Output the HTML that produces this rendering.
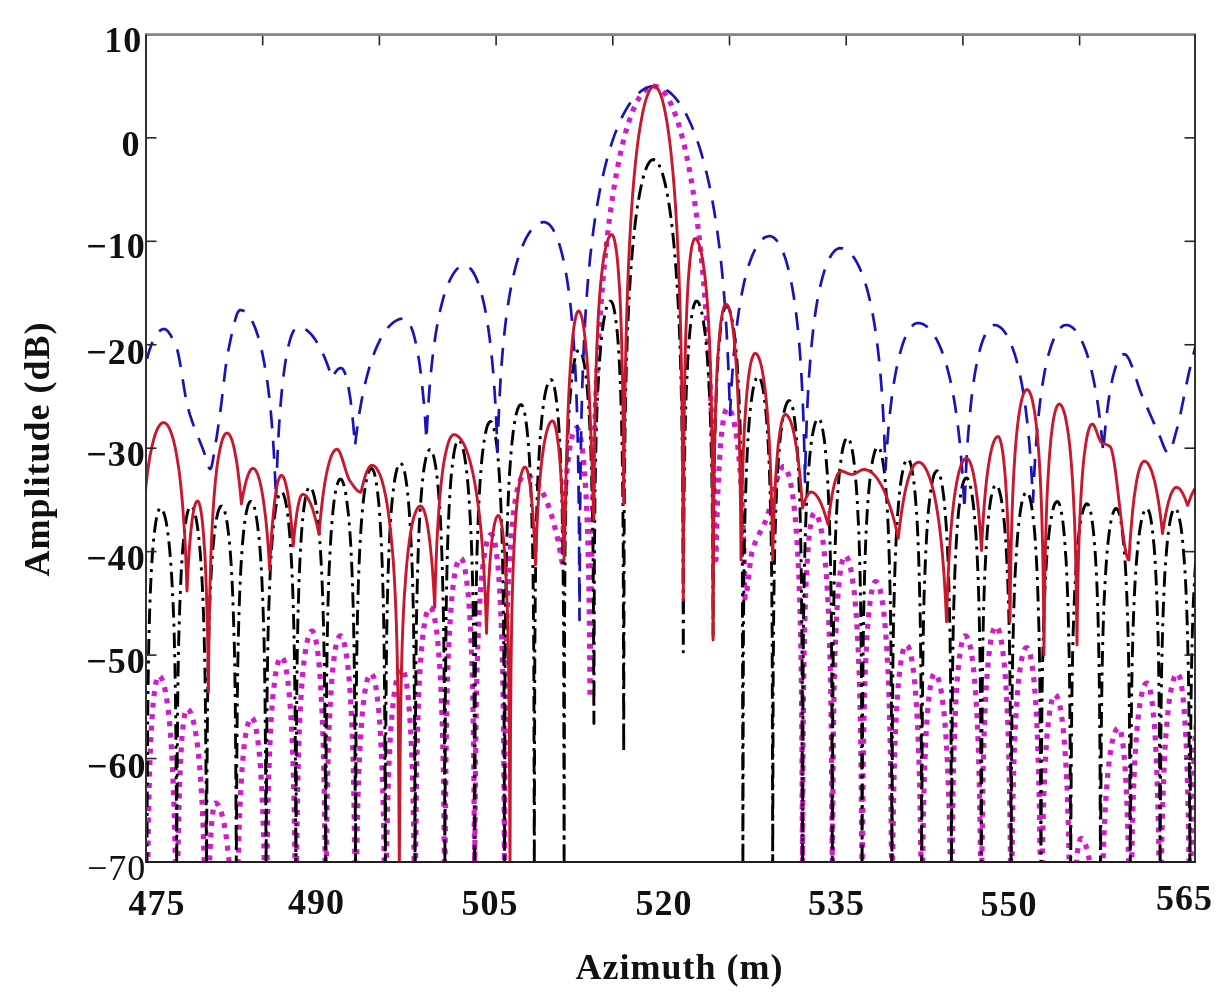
<!DOCTYPE html>
<html><head><meta charset="utf-8"><title>Amplitude vs Azimuth</title>
<style>
html,body{margin:0;padding:0;background:#fff;}
body{width:1223px;height:997px;overflow:hidden;}
svg{display:block;}
</style></head>
<body>
<svg width="1223" height="997" viewBox="0 0 1223 997">
<rect x="0" y="0" width="1223" height="997" fill="#ffffff"/>
<defs><clipPath id="ax"><rect x="146.0" y="33.4" width="1049.0" height="828.6"/></clipPath></defs>
<g clip-path="url(#ax)">
<path d="M146.9 868.0 L147.4 868.0 L147.9 858.7 L148.4 822.6 L148.9 797.2 L149.4 777.8 L149.9 762.1 L150.4 749.1 L150.9 738.1 L151.4 728.6 L151.9 720.4 L152.4 713.2 L152.9 706.9 L153.4 701.4 L153.9 696.6 L154.4 692.4 L154.9 688.7 L155.4 685.6 L155.9 682.9 L156.4 680.7 L156.9 678.9 L157.4 677.5 L157.9 676.6 L158.4 676.0 L159.4 675.9 L160.4 676.6 L161.4 678.1 L162.5 680.3 L163.5 683.3 L164.5 687.2 L165.5 692.0 L166.5 697.9 L167.0 701.3 L167.5 705.0 L168.1 709.0 L168.6 713.4 L169.1 718.2 L169.6 723.5 L170.1 729.4 L170.6 735.8 L171.1 742.9 L171.6 750.8 L172.1 759.7 L172.6 769.8 L173.1 781.3 L173.6 794.8 L174.2 810.8 L174.7 830.6 L175.2 856.2 L175.7 868.0 L177.7 868.0 L178.2 839.5 L178.8 814.3 L179.3 795.1 L179.8 779.8 L180.3 767.1 L180.8 756.5 L181.3 747.6 L181.8 739.9 L182.4 733.4 L182.9 727.8 L183.4 723.1 L183.9 719.2 L184.4 715.9 L184.9 713.3 L185.5 711.3 L186.0 709.9 L186.5 709.1 L187.0 708.8 L188.0 709.1 L189.0 710.0 L190.0 711.4 L191.0 713.5 L192.0 716.3 L193.0 719.7 L194.0 723.9 L195.0 728.9 L196.0 734.8 L197.0 741.8 L197.5 745.7 L198.0 750.0 L198.5 754.6 L199.0 759.6 L199.5 765.1 L200.0 771.1 L200.5 777.7 L201.0 784.9 L201.5 792.9 L202.0 801.9 L202.5 812.1 L203.0 823.7 L203.5 837.3 L204.0 853.4 L204.5 868.0 L209.1 868.0 L209.6 860.6 L210.2 848.5 L210.7 838.5 L211.2 830.2 L211.7 823.3 L212.3 817.6 L212.8 812.9 L213.3 809.3 L213.8 806.5 L214.4 804.5 L214.9 803.4 L215.4 803.0 L216.4 803.3 L217.4 804.1 L218.5 805.4 L219.5 807.3 L220.5 809.8 L221.5 812.8 L222.5 816.6 L223.6 821.1 L224.6 826.3 L225.6 832.4 L226.6 839.6 L227.1 843.6 L227.6 848.0 L228.1 852.7 L228.7 857.8 L229.2 863.3 L229.7 868.0 L237.8 868.0 L238.3 858.6 L238.8 838.9 L239.3 823.0 L239.8 809.7 L240.4 798.3 L240.9 788.5 L241.4 779.8 L241.9 772.1 L242.4 765.2 L242.9 759.1 L243.4 753.6 L243.9 748.6 L244.4 744.2 L244.9 740.2 L245.4 736.5 L245.9 733.3 L246.4 730.4 L246.9 727.9 L248.0 723.7 L249.0 720.6 L250.0 718.6 L251.0 717.6 L252.0 717.6 L253.0 718.7 L254.0 720.8 L255.0 724.1 L255.5 726.2 L256.0 728.6 L256.5 731.4 L257.0 734.5 L257.5 738.0 L258.0 741.9 L258.5 746.3 L259.1 751.1 L259.6 756.6 L260.1 762.6 L260.6 769.4 L261.1 777.0 L261.6 785.6 L262.1 795.5 L262.6 806.8 L263.1 820.1 L263.6 836.0 L264.1 855.6 L264.6 868.0 L266.6 868.0 L267.1 859.9 L267.6 823.7 L268.1 798.1 L268.6 778.4 L269.2 762.5 L269.7 749.2 L270.2 737.8 L270.7 728.0 L271.2 719.3 L271.7 711.6 L272.2 704.7 L272.7 698.6 L273.2 693.1 L273.8 688.1 L274.3 683.7 L274.8 679.7 L275.3 676.0 L275.8 672.8 L276.3 669.9 L276.8 667.4 L277.3 665.1 L278.3 661.5 L279.4 659.0 L280.4 657.5 L281.4 657.0 L282.4 657.5 L283.4 659.1 L284.4 661.8 L284.9 663.6 L285.4 665.7 L285.9 668.1 L286.4 670.9 L286.9 674.0 L287.4 677.5 L287.9 681.4 L288.4 685.8 L288.9 690.6 L289.4 696.1 L289.9 702.1 L290.4 708.9 L290.9 716.5 L291.4 725.1 L291.9 735.0 L292.4 746.3 L292.9 759.6 L293.4 775.5 L293.9 795.1 L294.4 820.7 L294.9 856.9 L295.4 868.0 L296.4 868.0 L296.9 839.7 L297.4 803.4 L297.9 777.8 L298.4 758.1 L298.9 742.1 L299.4 728.8 L299.9 717.3 L300.4 707.3 L300.9 698.6 L301.4 690.8 L301.9 683.8 L302.4 677.5 L302.9 671.9 L303.4 666.8 L303.9 662.1 L304.5 657.9 L305.0 654.1 L305.5 650.7 L306.0 647.6 L307.0 642.3 L308.0 638.1 L309.0 635.0 L310.0 632.7 L311.0 631.4 L312.0 631.0 L312.5 631.2 L313.0 631.6 L313.5 632.4 L314.0 633.5 L314.5 634.9 L315.0 636.6 L315.6 638.7 L316.1 641.1 L316.6 643.9 L317.1 647.2 L317.6 650.8 L318.1 654.9 L318.6 659.6 L319.1 664.8 L319.6 670.7 L320.1 677.3 L320.6 684.8 L321.1 693.3 L321.6 703.0 L322.1 714.2 L322.7 727.4 L323.2 743.2 L323.7 762.8 L324.2 788.3 L324.7 824.5 L325.2 868.0 L326.2 868.0 L326.7 835.6 L327.2 799.4 L327.7 773.8 L328.2 754.2 L328.7 738.3 L329.2 725.0 L329.8 713.7 L330.3 703.8 L330.8 695.2 L331.3 687.6 L331.8 680.8 L332.3 674.8 L332.8 669.3 L333.3 664.5 L333.8 660.1 L334.3 656.2 L334.8 652.7 L335.3 649.6 L335.8 646.8 L336.3 644.4 L336.9 642.3 L337.9 639.0 L338.9 636.9 L339.9 635.8 L340.9 635.8 L341.9 636.8 L342.9 638.8 L343.9 641.9 L344.9 646.1 L345.4 648.6 L345.9 651.5 L346.4 654.7 L346.9 658.4 L347.4 662.4 L347.9 666.8 L348.5 671.8 L349.0 677.3 L349.5 683.4 L350.0 690.3 L350.5 698.0 L351.0 706.7 L351.5 716.5 L352.0 727.9 L352.5 741.2 L353.0 757.1 L353.5 776.8 L354.0 802.4 L354.5 838.6 L355.0 868.0 L356.5 868.0 L357.0 843.1 L357.5 817.5 L358.0 797.8 L358.5 781.9 L359.0 768.5 L359.5 757.1 L360.0 747.2 L360.5 738.5 L361.0 730.7 L361.5 723.8 L362.0 717.6 L362.5 712.0 L363.0 707.0 L363.5 702.4 L364.0 698.3 L364.5 694.6 L365.0 691.2 L365.5 688.2 L366.0 685.6 L367.0 681.1 L368.0 677.7 L369.0 675.4 L370.0 674.0 L371.0 673.5 L372.0 674.1 L373.0 675.8 L373.6 677.1 L374.1 678.7 L374.6 680.6 L375.1 682.9 L375.6 685.5 L376.1 688.4 L376.6 691.8 L377.1 695.6 L377.6 699.9 L378.1 704.6 L378.7 710.0 L379.2 715.9 L379.7 722.7 L380.2 730.2 L380.7 738.8 L381.2 748.5 L381.7 759.8 L382.2 773.0 L382.7 788.9 L383.3 808.5 L383.8 834.0 L384.3 868.0 L386.3 868.0 L386.8 841.1 L387.4 815.5 L387.9 795.8 L388.4 779.8 L388.9 766.5 L389.4 755.0 L389.9 745.0 L390.4 736.3 L390.9 728.5 L391.4 721.5 L392.0 715.2 L392.5 709.6 L393.0 704.5 L393.5 699.8 L394.0 695.6 L394.5 691.8 L395.0 688.4 L395.6 685.3 L396.1 682.5 L397.1 677.8 L398.1 674.1 L399.1 671.4 L400.2 669.7 L401.2 668.8 L402.2 668.9 L402.7 669.4 L403.2 670.2 L403.8 671.3 L404.3 672.9 L404.8 674.7 L405.3 677.0 L405.8 679.6 L406.3 682.7 L406.9 686.2 L407.4 690.2 L407.9 694.7 L408.4 699.8 L408.9 705.6 L409.4 712.1 L409.9 719.5 L410.5 727.9 L411.0 737.6 L411.5 748.7 L412.0 761.9 L412.5 777.6 L413.0 797.2 L413.6 822.6 L414.1 858.8 L414.6 868.0 L415.6 868.0 L416.1 807.3 L416.6 771.1 L417.2 745.5 L417.7 725.9 L418.2 710.0 L418.7 696.7 L419.2 685.4 L419.7 675.5 L420.2 666.9 L420.8 659.3 L421.3 652.5 L421.8 646.5 L422.3 641.0 L422.8 636.2 L423.3 631.8 L423.8 627.9 L424.3 624.4 L424.9 621.3 L425.4 618.5 L425.9 616.1 L426.4 614.0 L426.9 612.2 L427.9 609.5 L429.0 607.9 L430.0 607.4 L431.0 607.9 L432.1 609.5 L433.1 612.2 L433.6 614.0 L434.1 616.1 L434.6 618.5 L435.1 621.3 L435.7 624.4 L436.2 627.9 L436.7 631.8 L437.2 636.2 L437.7 641.0 L438.2 646.5 L438.7 652.5 L439.2 659.3 L439.8 666.9 L440.3 675.5 L440.8 685.4 L441.3 696.7 L441.8 710.0 L442.3 725.9 L442.8 745.5 L443.4 771.1 L443.9 807.3 L444.4 868.0 L444.9 868.0 L445.4 826.0 L445.9 763.8 L446.4 727.6 L446.9 702.0 L447.4 682.3 L447.9 666.4 L448.4 653.0 L449.0 641.6 L449.5 631.7 L450.0 623.0 L450.5 615.2 L451.0 608.3 L451.5 602.1 L452.0 596.5 L452.5 591.5 L453.0 586.9 L453.5 582.8 L454.0 579.1 L454.5 575.7 L455.0 572.7 L455.5 570.1 L456.5 565.6 L457.6 562.2 L458.6 559.9 L459.6 558.5 L460.6 558.0 L461.6 558.6 L462.6 560.3 L463.1 561.6 L463.6 563.2 L464.1 565.1 L464.6 567.4 L465.1 570.0 L465.6 573.0 L466.1 576.3 L466.6 580.1 L467.1 584.4 L467.6 589.1 L468.2 594.5 L468.7 600.4 L469.2 607.2 L469.7 614.7 L470.2 623.3 L470.7 633.0 L471.2 644.3 L471.7 657.5 L472.2 673.4 L472.7 693.0 L473.2 718.5 L473.7 754.7 L474.2 816.9 L474.7 868.0 L475.2 808.0 L475.7 745.8 L476.2 709.6 L476.7 684.0 L477.2 664.2 L477.7 648.2 L478.2 634.8 L478.7 623.3 L479.2 613.3 L479.7 604.5 L480.2 596.7 L480.7 589.7 L481.2 583.3 L481.7 577.6 L482.2 572.4 L482.7 567.7 L483.2 563.5 L483.7 559.6 L484.2 556.0 L484.7 552.8 L485.7 547.3 L486.7 542.9 L487.7 539.5 L488.7 537.0 L489.7 535.3 L490.7 534.5 L491.7 534.6 L492.2 535.1 L492.7 535.9 L493.2 537.0 L493.8 538.6 L494.3 540.4 L494.8 542.7 L495.3 545.3 L495.8 548.4 L496.3 551.9 L496.8 555.9 L497.3 560.4 L497.9 565.5 L498.4 571.3 L498.9 577.8 L499.4 585.2 L499.9 593.6 L500.4 603.3 L500.9 614.4 L501.4 627.6 L501.9 643.3 L502.5 662.9 L503.0 688.4 L503.5 724.5 L504.0 786.6 L504.5 868.0 L505.0 764.0 L505.5 701.8 L506.0 665.5 L506.5 639.8 L507.0 620.0 L507.5 603.9 L508.0 590.4 L508.5 578.7 L509.0 568.6 L509.6 559.6 L510.1 551.5 L510.6 544.3 L511.1 537.7 L511.6 531.7 L512.1 526.2 L512.6 521.2 L513.1 516.6 L513.6 512.3 L514.1 508.4 L515.1 501.4 L516.1 495.5 L517.1 490.5 L518.1 486.3 L519.1 482.9 L520.2 480.1 L521.2 478.0 L522.2 476.6 L523.2 475.7 L524.2 475.4 L526.7 475.7 L529.2 476.6 L531.8 478.2 L534.3 480.3 L536.8 483.2 L539.3 486.7 L541.3 490.0 L543.4 493.9 L545.4 498.2 L547.4 503.1 L549.4 508.6 L551.4 514.8 L553.4 521.7 L554.9 527.5 L556.5 533.7 L558.0 540.5 L559.5 547.9 L561.0 556.1 L562.0 562.0 L562.5 546.6 L563.0 533.6 L563.5 522.2 L564.0 512.2 L564.5 503.3 L565.0 495.4 L565.5 488.2 L566.0 481.6 L566.5 475.7 L567.0 470.3 L567.5 465.3 L568.0 460.8 L568.5 456.7 L569.0 452.9 L569.5 449.4 L570.5 443.5 L571.5 438.6 L572.5 434.7 L573.5 431.7 L574.5 429.6 L575.5 428.4 L576.5 428.0 L577.5 428.6 L578.5 430.3 L579.0 431.7 L579.5 433.3 L580.0 435.3 L580.5 437.6 L581.0 440.2 L581.5 443.3 L582.0 446.7 L582.5 450.6 L583.0 454.9 L583.5 459.8 L584.0 465.3 L584.5 471.4 L585.0 478.2 L585.5 485.9 L586.0 494.7 L586.5 504.7 L587.0 516.2 L587.5 529.8 L588.0 546.1 L588.5 566.3 L589.0 592.7 L589.5 630.7 L590.0 698.0 L590.5 656.8 L591.0 609.2 L591.5 569.9 L592.0 537.8 L592.5 510.9 L593.0 487.9 L593.5 467.8 L594.0 449.9 L594.5 433.9 L595.0 419.4 L595.5 406.1 L596.0 393.8 L596.5 382.4 L597.0 371.8 L597.5 361.8 L598.0 352.4 L598.5 343.5 L599.0 335.1 L599.5 327.1 L600.0 319.5 L600.5 312.3 L601.5 298.7 L602.5 286.1 L603.5 274.5 L604.5 263.7 L605.5 253.6 L606.5 244.1 L607.5 235.2 L608.5 226.8 L609.5 218.8 L611.0 207.6 L612.5 197.3 L614.0 187.7 L615.5 178.8 L617.0 170.5 L618.5 162.7 L620.0 155.5 L621.5 148.8 L623.5 140.5 L625.5 132.9 L627.5 126.0 L629.5 119.8 L631.5 114.2 L633.5 109.1 L635.5 104.6 L637.5 100.7 L639.5 97.2 L641.5 94.2 L644.0 91.2 L646.5 88.8 L649.0 87.2 L651.5 86.3 L654.0 86.1 L656.5 86.6 L659.0 87.8 L661.5 89.8 L664.0 92.5 L666.0 95.2 L668.0 98.3 L670.0 102.0 L672.0 106.3 L674.0 111.0 L676.0 116.4 L678.0 122.3 L680.0 128.9 L682.0 136.2 L684.0 144.1 L685.5 150.6 L687.0 157.6 L688.5 165.0 L690.0 173.0 L691.5 181.6 L693.0 190.8 L694.5 200.8 L696.0 211.5 L697.0 219.1 L698.0 227.1 L699.0 235.6 L700.0 244.6 L701.0 254.2 L702.0 264.3 L703.0 275.2 L704.0 286.8 L705.0 299.3 L706.0 312.9 L706.5 320.1 L707.0 327.7 L707.5 335.6 L708.0 343.8 L708.5 352.5 L709.0 361.7 L709.5 371.4 L710.0 381.6 L710.5 392.5 L711.0 404.1 L711.5 416.5 L712.0 429.8 L712.5 444.1 L713.0 459.5 L713.5 476.1 L714.0 493.9 L714.5 512.6 L715.0 531.7 L715.5 549.2 L716.0 560.0 L716.5 536.3 L717.0 517.6 L717.5 502.3 L718.0 489.4 L718.5 478.3 L719.0 468.6 L719.5 460.2 L720.0 452.7 L720.5 446.1 L721.0 440.2 L721.5 434.9 L722.0 430.3 L722.5 426.2 L723.0 422.5 L723.5 419.4 L724.0 416.6 L724.5 414.3 L725.0 412.3 L725.5 410.8 L726.0 409.5 L726.5 408.7 L727.0 408.2 L728.0 408.1 L729.0 408.7 L730.0 410.0 L731.0 412.0 L732.0 414.6 L733.0 418.0 L734.0 422.1 L735.0 427.1 L736.0 433.1 L737.0 440.1 L737.5 444.1 L738.0 448.4 L738.5 453.1 L739.0 458.2 L739.5 463.8 L740.0 469.9 L740.5 476.6 L741.0 483.9 L741.5 492.1 L742.0 501.2 L742.5 511.4 L743.0 523.1 L743.5 536.7 L744.0 552.8 L744.5 572.6 L745.0 598.0 L745.5 597.4 L746.0 595.9 L746.5 593.5 L747.0 590.3 L747.5 586.6 L748.5 578.1 L749.5 569.1 L750.0 564.8 L750.5 560.8 L751.0 557.2 L751.5 554.2 L752.0 552.0 L753.5 547.1 L755.0 542.9 L756.5 539.3 L759.0 534.3 L762.5 527.8 L764.5 523.6 L766.0 520.0 L767.5 515.6 L769.0 510.5 L771.0 502.8 L774.5 488.6 L776.0 482.8 L777.5 477.6 L779.0 473.1 L780.0 470.7 L781.0 468.8 L782.0 467.4 L783.0 466.7 L784.0 466.7 L785.0 467.3 L786.0 468.5 L787.0 470.4 L788.0 473.0 L789.0 476.2 L790.0 480.3 L791.0 485.1 L792.0 490.9 L793.0 497.7 L793.5 501.6 L794.0 505.8 L794.5 510.4 L795.0 515.4 L795.5 520.8 L796.0 526.8 L796.5 533.3 L797.0 540.5 L797.5 548.6 L798.0 557.5 L798.5 567.7 L799.0 579.3 L799.5 592.8 L800.0 608.9 L800.5 628.7 L801.0 654.4 L801.5 690.7 L802.0 752.9 L802.5 868.0 L803.0 754.2 L803.5 692.2 L804.1 656.1 L804.6 630.7 L805.1 611.3 L805.6 595.7 L806.1 582.8 L806.6 571.8 L807.2 562.5 L807.7 554.4 L808.2 547.3 L808.7 541.2 L809.2 535.8 L809.7 531.2 L810.3 527.1 L810.8 523.7 L811.3 520.8 L811.8 518.3 L812.3 516.4 L812.8 514.9 L813.4 513.8 L813.9 513.2 L814.4 513.0 L815.4 513.4 L816.4 514.5 L817.5 516.3 L818.5 518.9 L819.5 522.4 L820.5 526.7 L821.6 532.0 L822.1 535.1 L822.6 538.5 L823.1 542.2 L823.6 546.2 L824.1 550.6 L824.6 555.4 L825.1 560.7 L825.7 566.6 L826.2 573.0 L826.7 580.1 L827.2 588.0 L827.7 596.9 L828.2 607.0 L828.7 618.5 L829.2 632.0 L829.7 648.0 L830.3 667.8 L830.8 693.4 L831.3 729.7 L831.8 791.9 L832.3 868.0 L832.8 804.3 L833.3 742.2 L833.8 706.1 L834.3 680.6 L834.8 661.1 L835.3 645.4 L835.9 632.3 L836.4 621.2 L836.9 611.7 L837.4 603.3 L837.9 596.1 L838.4 589.7 L838.9 584.0 L839.4 579.0 L839.9 574.6 L840.4 570.8 L840.9 567.5 L841.4 564.6 L842.0 562.1 L842.5 560.1 L843.0 558.5 L843.5 557.2 L844.0 556.3 L844.5 555.8 L845.5 555.7 L846.5 556.5 L847.5 558.0 L848.5 560.4 L849.5 563.6 L850.5 567.7 L851.5 572.9 L852.0 575.9 L852.5 579.2 L853.0 582.8 L853.5 586.7 L854.1 591.1 L854.6 595.9 L855.1 601.1 L855.6 606.9 L856.1 613.3 L856.6 620.3 L857.1 628.2 L857.6 637.1 L858.1 647.1 L858.6 658.6 L859.1 672.0 L859.6 688.1 L860.1 707.8 L860.6 733.5 L861.1 769.7 L861.6 831.9 L862.1 868.0 L862.6 837.1 L863.1 775.0 L863.6 738.8 L864.1 713.3 L864.6 693.7 L865.1 677.9 L865.6 664.7 L866.1 653.5 L866.6 643.8 L867.1 635.3 L867.6 627.8 L868.1 621.2 L868.6 615.3 L869.2 610.1 L869.7 605.4 L870.2 601.3 L870.7 597.7 L871.2 594.4 L871.7 591.6 L872.2 589.2 L872.7 587.1 L873.2 585.4 L873.7 584.0 L874.2 582.9 L874.7 582.1 L875.2 581.7 L876.2 581.6 L877.2 582.5 L878.2 584.2 L879.2 586.9 L880.3 590.6 L881.3 595.3 L881.8 598.1 L882.3 601.2 L882.8 604.6 L883.3 608.4 L883.8 612.6 L884.3 617.3 L884.8 622.4 L885.3 628.0 L885.8 634.3 L886.3 641.3 L886.8 649.1 L887.3 657.8 L887.9 667.8 L888.4 679.3 L888.9 692.6 L889.4 708.6 L889.9 728.3 L890.4 753.9 L890.9 790.2 L891.4 852.4 L891.9 868.0 L892.4 868.0 L892.9 844.9 L893.4 808.7 L893.9 783.1 L894.4 763.5 L894.9 747.6 L895.4 734.3 L895.9 723.0 L896.4 713.1 L896.9 704.5 L897.4 696.9 L897.9 690.1 L898.4 684.1 L898.9 678.6 L899.4 673.8 L899.9 669.4 L900.4 665.5 L900.9 662.0 L901.4 658.9 L901.9 656.1 L902.4 653.7 L902.9 651.6 L903.9 648.3 L904.9 646.2 L905.9 645.1 L906.9 645.1 L907.9 646.1 L909.0 648.1 L910.0 651.2 L910.5 653.1 L911.0 655.4 L911.5 657.9 L912.0 660.8 L912.5 664.0 L913.0 667.7 L913.5 671.7 L914.0 676.1 L914.6 681.1 L915.1 686.6 L915.6 692.7 L916.1 699.6 L916.6 707.3 L917.1 716.0 L917.6 725.8 L918.1 737.2 L918.6 750.5 L919.2 766.4 L919.7 786.1 L920.2 811.7 L920.7 847.9 L921.2 868.0 L922.2 868.0 L922.7 863.6 L923.2 827.4 L923.7 802.0 L924.2 782.4 L924.7 766.7 L925.2 753.5 L925.7 742.4 L926.2 732.7 L926.7 724.3 L927.2 716.9 L927.7 710.4 L928.2 704.6 L928.7 699.5 L929.2 695.0 L929.7 691.0 L930.2 687.5 L930.7 684.4 L931.2 681.8 L931.7 679.5 L932.2 677.7 L932.7 676.1 L933.2 675.0 L933.7 674.2 L934.2 673.7 L935.2 673.6 L936.2 674.4 L937.2 676.1 L938.3 678.6 L939.3 682.0 L940.3 686.4 L941.3 691.9 L941.8 695.1 L942.3 698.7 L942.8 702.6 L943.4 706.8 L943.9 711.5 L944.4 716.7 L944.9 722.4 L945.4 728.8 L945.9 735.8 L946.4 743.6 L946.9 752.4 L947.4 762.4 L947.9 773.9 L948.4 787.3 L949.0 803.3 L949.5 823.1 L950.0 848.7 L950.5 868.0 L952.0 868.0 L952.5 829.2 L953.0 793.0 L953.5 767.5 L954.1 747.9 L954.6 732.1 L955.1 718.9 L955.6 707.7 L956.1 698.0 L956.6 689.5 L957.1 682.0 L957.6 675.4 L958.1 669.5 L958.7 664.3 L959.2 659.6 L959.7 655.5 L960.2 651.9 L960.7 648.6 L961.2 645.8 L961.7 643.4 L962.2 641.3 L962.7 639.6 L963.3 638.2 L963.8 637.1 L964.3 636.3 L964.8 635.9 L965.8 635.8 L966.8 636.7 L967.8 638.4 L968.8 641.1 L969.8 644.8 L970.8 649.5 L971.3 652.3 L971.8 655.4 L972.3 658.8 L972.8 662.6 L973.3 666.8 L973.8 671.5 L974.3 676.6 L974.8 682.2 L975.3 688.5 L975.8 695.5 L976.3 703.3 L976.8 712.0 L977.3 722.0 L977.8 733.5 L978.3 746.8 L978.8 762.8 L979.3 782.5 L979.8 808.1 L980.3 844.4 L980.8 868.0 L981.8 868.0 L982.3 826.2 L982.8 790.0 L983.3 764.4 L983.8 744.8 L984.3 728.9 L984.8 715.6 L985.4 704.3 L985.9 694.4 L986.4 685.8 L986.9 678.2 L987.4 671.4 L987.9 665.4 L988.4 659.9 L988.9 655.1 L989.4 650.7 L989.9 646.8 L990.4 643.3 L990.9 640.2 L991.4 637.4 L991.9 635.0 L992.5 632.9 L993.5 629.6 L994.5 627.5 L995.5 626.4 L996.5 626.4 L997.5 627.4 L998.5 629.4 L999.5 632.5 L1000.5 636.7 L1001.0 639.2 L1001.5 642.1 L1002.0 645.3 L1002.5 649.0 L1003.0 653.0 L1003.5 657.4 L1004.1 662.4 L1004.6 667.9 L1005.1 674.0 L1005.6 680.9 L1006.1 688.6 L1006.6 697.3 L1007.1 707.1 L1007.6 718.5 L1008.1 731.8 L1008.6 747.7 L1009.1 767.4 L1009.6 793.0 L1010.1 829.2 L1010.6 868.0 L1011.6 868.0 L1012.1 850.4 L1012.6 814.2 L1013.2 788.6 L1013.7 768.9 L1014.2 753.0 L1014.7 739.7 L1015.2 728.3 L1015.8 718.5 L1016.3 709.8 L1016.8 702.1 L1017.3 695.2 L1017.8 689.1 L1018.3 683.6 L1018.8 678.6 L1019.4 674.2 L1019.9 670.2 L1020.4 666.5 L1020.9 663.3 L1021.4 660.4 L1021.9 657.9 L1022.5 655.6 L1023.5 652.0 L1024.5 649.5 L1025.6 648.0 L1026.6 647.5 L1027.6 648.1 L1028.6 649.8 L1029.2 651.1 L1029.7 652.7 L1030.2 654.6 L1030.7 656.9 L1031.2 659.5 L1031.7 662.4 L1032.2 665.8 L1032.7 669.6 L1033.2 673.9 L1033.8 678.6 L1034.3 684.0 L1034.8 689.9 L1035.3 696.7 L1035.8 704.2 L1036.3 712.8 L1036.8 722.5 L1037.3 733.8 L1037.8 747.0 L1038.3 762.9 L1038.9 782.5 L1039.4 808.0 L1039.9 844.2 L1040.4 868.0 L1041.9 868.0 L1042.4 855.2 L1042.9 829.7 L1043.4 810.1 L1043.9 794.2 L1044.4 781.0 L1044.9 769.7 L1045.4 760.0 L1045.9 751.4 L1046.4 743.8 L1046.9 737.1 L1047.4 731.2 L1048.0 725.8 L1048.5 721.1 L1049.0 716.8 L1049.5 713.0 L1050.0 709.6 L1050.5 706.7 L1051.0 704.1 L1051.5 701.8 L1052.0 699.9 L1052.5 698.3 L1053.5 696.0 L1054.5 694.8 L1055.5 694.8 L1056.5 695.7 L1057.5 697.6 L1058.5 700.5 L1059.6 704.4 L1060.1 706.8 L1060.6 709.4 L1061.1 712.4 L1061.6 715.8 L1062.1 719.5 L1062.6 723.6 L1063.1 728.2 L1063.6 733.2 L1064.1 738.8 L1064.6 745.0 L1065.1 751.9 L1065.6 759.7 L1066.1 768.4 L1066.6 778.3 L1067.2 789.7 L1067.7 803.1 L1068.2 819.0 L1068.7 838.7 L1069.2 864.3 L1069.7 868.0 L1075.8 868.0 L1076.4 863.1 L1076.9 857.5 L1077.4 852.8 L1077.9 848.9 L1078.4 845.6 L1078.9 843.0 L1079.5 841.0 L1080.0 839.6 L1080.5 838.8 L1081.0 838.5 L1082.0 838.8 L1083.0 839.7 L1084.0 841.1 L1085.0 843.2 L1086.0 846.0 L1087.0 849.4 L1088.0 853.6 L1089.0 858.6 L1090.0 864.5 L1090.5 867.9 L1102.5 868.0 L1103.0 865.2 L1103.5 849.1 L1104.0 835.7 L1104.5 824.1 L1105.0 814.0 L1105.5 805.1 L1106.0 797.1 L1106.5 790.0 L1107.0 783.5 L1107.5 777.6 L1108.0 772.3 L1108.5 767.4 L1109.0 762.9 L1109.5 758.8 L1110.0 755.1 L1111.0 748.5 L1112.0 743.0 L1113.0 738.5 L1114.0 734.8 L1115.0 732.0 L1116.0 729.9 L1117.0 728.5 L1118.0 727.8 L1119.0 727.9 L1119.5 728.5 L1120.0 729.6 L1120.6 731.1 L1121.1 733.0 L1121.6 735.5 L1122.1 738.4 L1122.6 741.8 L1123.1 745.9 L1123.6 750.5 L1124.1 755.9 L1124.7 762.0 L1125.2 769.1 L1125.7 777.2 L1126.2 786.5 L1126.7 797.5 L1127.2 810.4 L1127.7 826.0 L1128.2 845.4 L1128.8 868.0 L1131.3 868.0 L1131.8 858.2 L1132.3 832.6 L1132.8 812.8 L1133.3 796.8 L1133.8 783.4 L1134.3 771.9 L1134.8 761.9 L1135.3 753.1 L1135.8 745.3 L1136.3 738.3 L1136.8 731.9 L1137.3 726.2 L1137.8 721.0 L1138.3 716.3 L1138.8 712.1 L1139.3 708.2 L1139.8 704.6 L1140.3 701.4 L1141.3 695.9 L1142.3 691.5 L1143.3 688.1 L1144.3 685.6 L1145.3 683.9 L1146.3 683.1 L1147.3 683.2 L1147.8 683.7 L1148.3 684.5 L1148.8 685.6 L1149.4 687.2 L1149.9 689.0 L1150.4 691.3 L1150.9 693.9 L1151.4 697.0 L1151.9 700.5 L1152.4 704.5 L1152.9 709.0 L1153.4 714.1 L1154.0 719.9 L1154.5 726.4 L1155.0 733.8 L1155.5 742.2 L1156.0 751.9 L1156.5 763.0 L1157.0 776.2 L1157.5 791.9 L1158.1 811.5 L1158.6 836.9 L1159.1 868.0 L1161.1 868.0 L1161.6 851.3 L1162.1 825.7 L1162.7 806.0 L1163.2 789.9 L1163.7 776.5 L1164.2 765.0 L1164.7 755.0 L1165.2 746.1 L1165.7 738.2 L1166.2 731.2 L1166.8 724.8 L1167.3 719.0 L1167.8 713.8 L1168.3 709.0 L1168.8 704.6 L1169.3 700.7 L1169.8 697.1 L1170.3 693.8 L1171.4 688.1 L1172.4 683.5 L1173.4 679.8 L1174.4 677.0 L1175.5 675.0 L1176.5 673.9 L1177.5 673.5 L1178.0 673.7 L1178.5 674.3 L1179.0 675.2 L1179.6 676.6 L1180.1 678.4 L1180.6 680.6 L1181.1 683.3 L1181.6 686.4 L1182.2 690.1 L1182.7 694.3 L1183.2 699.1 L1183.7 704.6 L1184.2 710.9 L1184.7 718.1 L1185.2 726.3 L1185.8 735.8 L1186.3 746.8 L1186.8 759.8 L1187.3 775.5 L1187.8 794.9 L1188.4 820.3 L1188.9 856.4 L1189.4 868.0 L1190.9 868.0 L1191.4 846.7 L1191.9 821.1 L1192.4 801.4 L1192.9 785.5 L1193.4 772.2 L1193.9 760.8 L1194.4 751.0 L1194.9 742.3 L1195.4 734.6 L1195.9 727.7 L1196.4 721.6 L1196.9 716.1 L1197.5 711.1 L1198.0 706.7 L1198.5 702.7 L1199.0 699.0 L1199.5 695.8 L1200.0 692.9 L1200.5 690.4 L1201.5 686.2 L1202.5 683.1 L1203.5 681.1 L1204.5 680.1 L1205.0 680.0" stroke="#d21ccc" stroke-width="5.2" fill="none" stroke-dasharray="5 6.5" stroke-linejoin="round"/>
<path d="M146.9 868.0 L147.4 763.6 L147.9 701.5 L148.4 665.3 L148.9 639.8 L149.4 620.2 L149.9 604.4 L150.4 591.2 L150.9 580.0 L151.4 570.3 L151.9 561.8 L152.4 554.3 L152.9 547.7 L153.4 541.8 L154.0 536.6 L154.5 531.9 L155.0 527.8 L155.5 524.2 L156.0 520.9 L156.5 518.1 L157.0 515.7 L157.5 513.6 L158.0 511.9 L158.5 510.5 L159.0 509.4 L159.5 508.6 L160.0 508.2 L161.0 508.1 L162.0 509.0 L163.0 510.7 L164.0 513.4 L165.1 517.1 L166.1 521.8 L166.6 524.6 L167.1 527.7 L167.6 531.1 L168.1 534.9 L168.6 539.1 L169.1 543.8 L169.6 548.9 L170.1 554.5 L170.6 560.8 L171.1 567.8 L171.6 575.6 L172.1 584.3 L172.6 594.3 L173.2 605.8 L173.7 619.1 L174.2 635.1 L174.7 654.8 L175.2 680.4 L175.7 716.7 L176.2 778.9 L176.7 868.0 L177.2 764.9 L177.7 702.7 L178.2 666.5 L178.7 641.0 L179.3 621.4 L179.8 605.5 L180.3 592.3 L180.8 581.0 L181.3 571.3 L181.8 562.7 L182.3 555.2 L182.8 548.4 L183.3 542.5 L183.8 537.1 L184.4 532.4 L184.9 528.1 L185.4 524.3 L185.9 521.0 L186.4 518.0 L186.9 515.4 L187.4 513.1 L187.9 511.2 L188.4 509.6 L189.0 508.3 L190.0 506.6 L191.0 506.0 L192.0 506.5 L193.0 507.9 L194.0 510.2 L195.0 513.6 L196.0 518.1 L196.5 520.7 L197.0 523.7 L197.5 527.1 L198.0 530.8 L198.5 534.9 L199.0 539.5 L199.5 544.5 L200.0 550.1 L200.5 556.3 L201.0 563.2 L201.5 571.0 L202.0 579.7 L202.5 589.6 L203.0 601.0 L203.5 614.4 L204.0 630.3 L204.5 650.0 L205.0 675.6 L205.5 711.9 L206.0 774.0 L206.5 868.0 L207.0 771.1 L207.5 708.9 L208.0 672.7 L208.5 647.1 L209.0 627.4 L209.5 611.5 L210.0 598.2 L210.5 586.8 L211.0 577.0 L211.5 568.3 L212.0 560.6 L212.5 553.7 L213.0 547.6 L213.5 542.1 L214.0 537.1 L214.5 532.7 L215.0 528.7 L215.5 525.0 L216.0 521.8 L216.5 518.9 L217.0 516.4 L218.0 512.2 L219.0 509.1 L220.0 507.1 L221.0 506.1 L222.0 506.1 L223.0 507.2 L224.1 509.3 L225.1 512.6 L225.6 514.7 L226.1 517.1 L226.6 519.9 L227.1 523.0 L227.6 526.5 L228.1 530.4 L228.6 534.8 L229.2 539.6 L229.7 545.1 L230.2 551.1 L230.7 557.9 L231.2 565.5 L231.7 574.1 L232.2 584.0 L232.7 595.3 L233.2 608.6 L233.7 624.5 L234.3 644.1 L234.8 669.7 L235.3 705.9 L235.8 768.0 L236.3 868.0 L236.8 763.4 L237.3 701.3 L237.8 665.1 L238.3 639.5 L238.8 619.9 L239.3 604.0 L239.8 590.7 L240.3 579.4 L240.8 569.5 L241.3 560.9 L241.8 553.3 L242.3 546.5 L242.8 540.5 L243.3 535.0 L243.8 530.2 L244.3 525.8 L244.8 521.9 L245.3 518.4 L245.8 515.3 L246.3 512.5 L246.8 510.1 L247.3 508.0 L248.3 504.7 L249.3 502.6 L250.3 501.5 L251.3 501.5 L252.3 502.5 L253.3 504.5 L254.4 507.6 L254.9 509.5 L255.4 511.8 L255.9 514.3 L256.4 517.2 L256.9 520.4 L257.4 524.1 L257.9 528.1 L258.4 532.5 L259.0 537.5 L259.5 543.0 L260.0 549.1 L260.5 556.0 L261.0 563.7 L261.5 572.4 L262.0 582.2 L262.5 593.6 L263.0 606.9 L263.5 622.8 L264.1 642.5 L264.6 668.1 L265.1 704.3 L265.6 766.5 L266.1 868.0 L266.6 757.1 L267.1 694.9 L267.6 658.7 L268.1 633.1 L268.6 613.4 L269.2 597.5 L269.7 584.2 L270.2 572.8 L270.7 563.0 L271.2 554.3 L271.7 546.6 L272.2 539.7 L272.7 533.6 L273.2 528.1 L273.8 523.1 L274.3 518.7 L274.8 514.7 L275.3 511.0 L275.8 507.8 L276.3 504.9 L276.8 502.4 L277.3 500.1 L278.3 496.5 L279.4 494.0 L280.4 492.5 L281.4 492.0 L282.4 492.5 L283.4 494.1 L284.4 496.8 L284.9 498.6 L285.4 500.7 L285.9 503.1 L286.4 505.9 L286.9 509.0 L287.4 512.5 L287.9 516.4 L288.4 520.8 L288.9 525.6 L289.4 531.1 L289.9 537.1 L290.4 543.9 L290.9 551.5 L291.4 560.1 L291.9 570.0 L292.4 581.3 L292.9 594.6 L293.4 610.5 L293.9 630.1 L294.4 655.7 L294.9 691.9 L295.4 754.0 L295.9 868.0 L296.4 742.6 L296.9 680.5 L297.4 644.3 L297.9 618.8 L298.5 599.2 L299.0 583.4 L299.5 570.2 L300.0 559.0 L300.5 549.3 L301.0 540.8 L301.5 533.3 L302.0 526.7 L302.5 520.8 L303.1 515.6 L303.6 510.9 L304.1 506.8 L304.6 503.2 L305.1 499.9 L305.6 497.1 L306.1 494.7 L306.6 492.6 L307.1 490.9 L307.7 489.5 L308.2 488.4 L308.7 487.6 L309.2 487.2 L310.2 487.1 L311.2 488.0 L312.2 489.7 L313.2 492.4 L314.2 496.1 L315.2 500.8 L315.7 503.6 L316.2 506.7 L316.7 510.1 L317.2 513.9 L317.7 518.1 L318.2 522.8 L318.7 527.9 L319.2 533.5 L319.7 539.8 L320.2 546.8 L320.7 554.6 L321.2 563.3 L321.7 573.3 L322.2 584.8 L322.7 598.1 L323.2 614.1 L323.7 633.8 L324.2 659.4 L324.7 695.7 L325.2 757.9 L325.7 868.0 L326.2 741.0 L326.7 678.9 L327.2 642.7 L327.7 617.1 L328.2 597.5 L328.7 581.6 L329.2 568.3 L329.8 557.0 L330.3 547.1 L330.8 538.5 L331.3 530.9 L331.8 524.1 L332.3 518.1 L332.8 512.6 L333.3 507.8 L333.8 503.4 L334.3 499.5 L334.8 496.0 L335.3 492.9 L335.8 490.1 L336.3 487.7 L336.9 485.6 L337.9 482.3 L338.9 480.2 L339.9 479.1 L340.9 479.1 L341.9 480.1 L342.9 482.1 L343.9 485.2 L344.9 489.4 L345.4 491.9 L345.9 494.8 L346.4 498.0 L346.9 501.7 L347.4 505.7 L347.9 510.1 L348.5 515.1 L349.0 520.6 L349.5 526.7 L350.0 533.6 L350.5 541.3 L351.0 550.0 L351.5 559.8 L352.0 571.2 L352.5 584.5 L353.0 600.4 L353.5 620.1 L354.0 645.7 L354.5 681.9 L355.0 744.1 L355.5 868.0 L356.0 739.4 L356.5 677.2 L357.0 640.9 L357.5 615.3 L358.0 595.6 L358.5 579.6 L359.0 566.3 L359.5 554.8 L360.0 544.8 L360.5 536.1 L361.0 528.3 L361.5 521.3 L362.0 515.0 L362.5 509.4 L363.0 504.3 L363.5 499.6 L364.0 495.4 L364.5 491.6 L365.0 488.2 L365.5 485.1 L366.5 479.8 L367.5 475.6 L368.5 472.5 L369.5 470.2 L370.5 468.9 L371.5 468.5 L372.0 468.7 L372.5 469.1 L373.0 469.9 L373.5 471.0 L374.1 472.4 L374.6 474.1 L375.1 476.2 L375.6 478.6 L376.1 481.4 L376.6 484.7 L377.1 488.3 L377.6 492.4 L378.1 497.1 L378.7 502.3 L379.2 508.2 L379.7 514.8 L380.2 522.3 L380.7 530.8 L381.2 540.5 L381.7 551.7 L382.2 564.9 L382.7 580.7 L383.3 600.3 L383.8 625.8 L384.3 662.0 L384.8 724.1 L385.3 868.0 L385.8 728.1 L386.3 665.9 L386.8 629.7 L387.3 604.1 L387.8 584.5 L388.3 568.5 L388.8 555.2 L389.3 543.8 L389.8 534.0 L390.3 525.3 L390.8 517.6 L391.3 510.7 L391.8 504.6 L392.3 499.1 L392.9 494.1 L393.4 489.7 L393.9 485.7 L394.4 482.0 L394.9 478.8 L395.4 475.9 L395.9 473.4 L396.9 469.2 L397.9 466.1 L398.9 464.1 L399.9 463.1 L400.9 463.1 L401.9 464.2 L402.9 466.3 L403.9 469.6 L404.5 471.7 L405.0 474.1 L405.5 476.9 L406.0 480.0 L406.5 483.5 L407.0 487.4 L407.5 491.8 L408.0 496.6 L408.5 502.1 L409.0 508.1 L409.5 514.9 L410.0 522.5 L410.5 531.1 L411.0 541.0 L411.6 552.3 L412.1 565.6 L412.6 581.5 L413.1 601.1 L413.6 626.7 L414.1 662.9 L414.6 725.0 L415.1 868.0 L415.6 711.5 L416.1 649.4 L416.6 613.2 L417.2 587.6 L417.7 568.0 L418.2 552.1 L418.7 538.8 L419.2 527.5 L419.7 517.6 L420.2 509.0 L420.8 501.4 L421.3 494.6 L421.8 488.6 L422.3 483.1 L422.8 478.3 L423.3 473.9 L423.8 470.0 L424.3 466.5 L424.9 463.4 L425.4 460.6 L425.9 458.2 L426.4 456.1 L426.9 454.3 L427.9 451.6 L429.0 450.0 L430.0 449.5 L431.0 450.0 L432.1 451.6 L433.1 454.3 L433.6 456.1 L434.1 458.2 L434.6 460.6 L435.1 463.4 L435.7 466.5 L436.2 470.0 L436.7 473.9 L437.2 478.3 L437.7 483.1 L438.2 488.6 L438.7 494.6 L439.2 501.4 L439.8 509.0 L440.3 517.6 L440.8 527.5 L441.3 538.8 L441.8 552.1 L442.3 568.0 L442.8 587.6 L443.4 613.2 L443.9 649.4 L444.4 711.5 L444.9 868.0 L445.4 695.6 L445.9 633.5 L446.4 597.3 L446.9 571.8 L447.4 552.2 L447.9 536.4 L448.4 523.2 L448.9 512.0 L449.4 502.3 L449.9 493.8 L450.4 486.3 L450.9 479.7 L451.4 473.8 L452.0 468.6 L452.5 463.9 L453.0 459.8 L453.5 456.2 L454.0 452.9 L454.5 450.1 L455.0 447.7 L455.5 445.6 L456.0 443.9 L456.5 442.5 L457.0 441.4 L457.5 440.6 L458.0 440.2 L459.0 440.1 L460.0 441.0 L461.0 442.7 L462.0 445.4 L463.1 449.1 L464.1 453.8 L464.6 456.6 L465.1 459.7 L465.6 463.1 L466.1 466.9 L466.6 471.1 L467.1 475.8 L467.6 480.9 L468.1 486.5 L468.6 492.8 L469.1 499.8 L469.6 507.6 L470.1 516.3 L470.6 526.3 L471.2 537.8 L471.7 551.1 L472.2 567.1 L472.7 586.8 L473.2 612.4 L473.7 648.7 L474.2 710.9 L474.7 868.0 L475.2 689.5 L475.7 627.4 L476.2 591.1 L476.7 565.5 L477.2 545.8 L477.8 529.9 L478.3 516.5 L478.8 505.1 L479.3 495.2 L479.8 486.5 L480.3 478.7 L480.8 471.8 L481.3 465.6 L481.8 460.0 L482.3 455.0 L482.9 450.4 L483.4 446.3 L483.9 442.6 L484.4 439.2 L484.9 436.2 L485.4 433.6 L486.4 429.1 L487.4 425.7 L488.5 423.4 L489.5 422.0 L490.5 421.5 L491.5 422.1 L492.5 423.8 L493.0 425.1 L493.5 426.7 L494.0 428.6 L494.5 430.9 L495.0 433.5 L495.5 436.5 L496.0 439.8 L496.5 443.6 L497.0 447.9 L497.5 452.6 L498.0 458.0 L498.5 463.9 L499.0 470.7 L499.5 478.2 L500.0 486.8 L500.5 496.5 L501.0 507.8 L501.5 521.0 L502.0 536.9 L502.5 556.5 L503.0 582.0 L503.5 618.2 L504.0 680.4 L504.5 868.0 L505.0 678.1 L505.5 616.0 L506.0 579.7 L506.5 554.1 L507.0 534.3 L507.5 518.3 L508.0 504.9 L508.5 493.4 L509.0 483.4 L509.5 474.6 L510.0 466.8 L510.5 459.8 L511.0 453.4 L511.5 447.7 L512.0 442.5 L512.5 437.8 L513.0 433.6 L513.5 429.7 L514.0 426.1 L514.5 422.9 L515.5 417.4 L516.5 413.0 L517.5 409.6 L518.5 407.1 L519.5 405.4 L520.5 404.6 L521.5 404.7 L522.0 405.2 L522.5 406.0 L523.0 407.1 L523.6 408.7 L524.1 410.5 L524.6 412.8 L525.1 415.4 L525.6 418.5 L526.1 422.0 L526.6 426.0 L527.1 430.5 L527.6 435.6 L528.2 441.4 L528.7 447.9 L529.2 455.3 L529.7 463.7 L530.2 473.4 L530.7 484.5 L531.2 497.7 L531.7 513.4 L532.3 533.0 L532.8 558.5 L533.3 594.6 L533.8 656.7 L534.3 868.0 L534.8 653.2 L535.3 591.1 L535.8 554.8 L536.3 529.2 L536.8 509.4 L537.3 493.4 L537.8 480.0 L538.3 468.5 L538.9 458.5 L539.4 449.7 L539.9 441.9 L540.4 434.9 L540.9 428.5 L541.4 422.8 L541.9 417.6 L542.4 412.9 L542.9 408.7 L543.4 404.8 L543.9 401.2 L544.4 398.0 L545.4 392.5 L546.4 388.1 L547.5 384.7 L548.5 382.2 L549.5 380.5 L550.5 379.7 L551.5 379.8 L552.0 380.3 L552.5 381.1 L553.0 382.2 L553.5 383.8 L554.0 385.6 L554.5 387.9 L555.0 390.5 L555.5 393.6 L556.0 397.1 L556.5 401.1 L557.0 405.6 L557.5 410.7 L558.1 416.5 L558.6 423.0 L559.1 430.4 L559.6 438.8 L560.1 448.5 L560.6 459.6 L561.1 472.8 L561.6 488.5 L562.1 508.1 L562.6 533.6 L563.1 569.7 L563.6 631.8 L564.1 868.0 L564.6 612.0 L565.1 549.9 L565.6 513.7 L566.2 488.1 L566.7 468.5 L567.2 452.6 L567.7 439.3 L568.2 428.0 L568.7 418.1 L569.2 409.5 L569.8 401.9 L570.3 395.1 L570.8 389.1 L571.3 383.6 L571.8 378.8 L572.3 374.4 L572.8 370.5 L573.3 367.0 L573.9 363.9 L574.4 361.1 L574.9 358.7 L575.4 356.6 L575.9 354.8 L576.9 352.1 L578.0 350.5 L579.0 350.0 L580.0 350.5 L581.1 352.1 L582.1 354.8 L582.6 356.5 L583.1 358.6 L583.6 360.9 L584.1 363.6 L584.7 366.7 L585.2 370.1 L585.7 374.0 L586.2 378.2 L586.7 383.0 L587.2 388.3 L587.7 394.2 L588.2 400.8 L588.8 408.2 L589.3 416.6 L589.8 426.1 L590.3 436.9 L590.8 449.6 L591.3 464.7 L591.8 483.1 L592.4 506.7 L592.9 539.0 L593.4 590.3 L593.9 723.5 L594.4 559.6 L594.9 505.0 L595.4 471.4 L595.9 447.2 L596.4 428.2 L596.9 412.8 L597.4 399.8 L597.9 388.6 L598.5 378.8 L599.0 370.2 L599.5 362.5 L600.0 355.6 L600.5 349.3 L601.0 343.7 L601.5 338.6 L602.0 334.0 L602.5 329.7 L603.0 325.9 L603.5 322.4 L604.0 319.2 L605.0 313.8 L606.0 309.4 L607.1 306.0 L608.1 303.5 L609.1 301.9 L610.1 301.1 L611.1 301.2 L611.6 301.7 L612.1 302.5 L612.6 303.6 L613.1 305.1 L613.6 307.0 L614.1 309.2 L614.6 311.9 L615.1 314.9 L615.6 318.4 L616.1 322.3 L616.6 326.8 L617.2 331.9 L617.7 337.6 L618.2 344.1 L618.7 351.4 L619.2 359.7 L619.7 369.2 L620.2 380.2 L620.7 393.1 L621.2 408.5 L621.7 427.6 L622.2 452.3 L622.7 486.9 L623.2 544.4 L623.7 752.0 L624.2 517.6 L624.7 457.4 L625.2 420.7 L625.7 394.1 L626.2 373.2 L626.7 355.8 L627.2 341.0 L627.7 328.0 L628.2 316.5 L628.7 306.1 L629.2 296.6 L629.7 288.0 L630.2 280.0 L630.7 272.6 L631.2 265.7 L631.7 259.2 L632.2 253.2 L632.7 247.5 L633.7 237.0 L634.7 227.7 L635.7 219.2 L636.7 211.6 L637.7 204.7 L638.8 198.5 L639.8 192.9 L640.8 187.8 L641.8 183.2 L642.8 179.0 L643.8 175.4 L644.8 172.1 L646.3 168.0 L647.8 164.7 L649.3 162.2 L650.8 160.6 L652.3 159.7 L653.8 159.5 L655.3 160.2 L656.8 161.5 L658.3 163.6 L659.8 166.5 L661.3 170.2 L662.8 174.8 L663.8 178.3 L664.8 182.3 L665.8 186.7 L666.8 191.6 L667.8 197.0 L668.8 202.9 L669.8 209.5 L670.8 216.7 L671.8 224.7 L672.8 233.5 L673.8 243.4 L674.3 248.7 L674.8 254.4 L675.3 260.4 L675.8 266.8 L676.3 273.6 L676.8 280.9 L677.3 288.8 L677.8 297.4 L678.3 306.7 L678.8 316.9 L679.3 328.2 L679.8 340.9 L680.3 355.4 L680.8 372.3 L681.3 392.5 L681.8 417.9 L682.3 452.3 L682.8 506.5 L683.3 652.0 L683.8 528.8 L684.3 478.8 L684.8 447.1 L685.3 423.9 L685.8 405.8 L686.3 390.9 L686.9 378.5 L687.4 367.8 L687.9 358.5 L688.4 350.5 L688.9 343.3 L689.4 337.0 L689.9 331.4 L690.4 326.4 L690.9 322.0 L691.4 318.1 L691.9 314.7 L692.4 311.7 L692.9 309.1 L693.5 306.9 L694.0 305.1 L694.5 303.6 L695.0 302.5 L695.5 301.6 L696.0 301.2 L697.0 301.1 L698.0 301.9 L699.0 303.5 L700.0 306.0 L701.0 309.3 L702.0 313.6 L703.0 318.9 L703.5 322.0 L704.0 325.5 L704.5 329.2 L705.1 333.4 L705.6 337.9 L706.1 342.9 L706.6 348.4 L707.1 354.4 L707.6 361.1 L708.1 368.6 L708.6 376.9 L709.1 386.4 L709.6 397.1 L710.1 409.5 L710.6 424.1 L711.1 441.8 L711.6 464.0 L712.1 493.9 L712.6 539.3 L713.1 636.0 L713.6 528.3 L714.1 480.8 L714.6 450.1 L715.2 427.5 L715.7 409.7 L716.2 395.1 L716.7 382.8 L717.2 372.3 L717.7 363.1 L718.3 355.1 L718.8 348.0 L719.3 341.8 L719.8 336.2 L720.3 331.3 L720.8 326.9 L721.3 323.0 L721.9 319.6 L722.4 316.6 L722.9 314.1 L723.4 311.9 L723.9 310.1 L724.4 308.6 L725.0 307.4 L725.5 306.6 L726.0 306.2 L727.0 306.1 L728.0 307.0 L729.1 308.7 L730.1 311.4 L731.1 315.1 L732.1 319.8 L732.6 322.6 L733.2 325.7 L733.7 329.1 L734.2 332.9 L734.7 337.1 L735.2 341.8 L735.7 346.9 L736.2 352.5 L736.8 358.8 L737.3 365.8 L737.8 373.6 L738.3 382.3 L738.8 392.3 L739.3 403.8 L739.8 417.1 L740.3 433.1 L740.9 452.8 L741.4 478.4 L741.9 514.7 L742.4 576.9 L742.9 868.0 L743.4 641.5 L743.9 579.3 L744.4 543.1 L744.9 517.5 L745.5 497.9 L746.0 481.9 L746.5 468.6 L747.0 457.2 L747.5 447.4 L748.0 438.7 L748.5 431.0 L749.0 424.1 L749.5 418.0 L750.0 412.5 L750.5 407.5 L751.1 403.1 L751.6 399.1 L752.1 395.4 L752.6 392.2 L753.1 389.3 L753.6 386.8 L754.1 384.5 L755.1 380.9 L756.2 378.4 L757.2 376.9 L758.2 376.4 L759.2 376.9 L760.2 378.5 L761.2 381.2 L761.7 383.0 L762.2 385.1 L762.7 387.5 L763.2 390.3 L763.7 393.4 L764.2 396.9 L764.7 400.8 L765.2 405.2 L765.7 410.0 L766.2 415.5 L766.7 421.5 L767.2 428.3 L767.7 435.9 L768.2 444.5 L768.7 454.4 L769.2 465.7 L769.7 479.0 L770.2 494.9 L770.7 514.5 L771.2 540.1 L771.7 576.3 L772.2 638.4 L772.7 868.0 L773.2 674.1 L773.7 612.0 L774.2 575.7 L774.7 550.1 L775.2 530.3 L775.7 514.3 L776.2 500.9 L776.7 489.4 L777.2 479.4 L777.7 470.6 L778.2 462.8 L778.7 455.8 L779.2 449.4 L779.7 443.7 L780.2 438.5 L780.7 433.8 L781.3 429.6 L781.8 425.7 L782.3 422.1 L782.8 418.9 L783.8 413.4 L784.8 409.0 L785.8 405.6 L786.8 403.1 L787.8 401.4 L788.8 400.6 L789.8 400.7 L790.3 401.2 L790.8 402.0 L791.3 403.1 L791.8 404.7 L792.3 406.5 L792.9 408.8 L793.4 411.4 L793.9 414.5 L794.4 418.0 L794.9 422.0 L795.4 426.5 L795.9 431.6 L796.4 437.4 L796.9 443.9 L797.4 451.3 L797.9 459.7 L798.4 469.4 L798.9 480.5 L799.5 493.7 L800.0 509.4 L800.5 529.0 L801.0 554.5 L801.5 590.6 L802.0 652.7 L802.5 868.0 L803.0 686.5 L803.5 624.4 L804.0 588.1 L804.6 562.5 L805.1 542.8 L805.6 526.9 L806.1 513.5 L806.6 502.1 L807.1 492.2 L807.6 483.5 L808.1 475.7 L808.7 468.8 L809.2 462.6 L809.7 457.0 L810.2 452.0 L810.7 447.4 L811.2 443.3 L811.7 439.6 L812.2 436.2 L812.8 433.2 L813.3 430.6 L814.3 426.1 L815.3 422.7 L816.3 420.4 L817.4 419.0 L818.4 418.5 L818.9 418.7 L819.4 419.1 L819.9 419.9 L820.5 421.0 L821.0 422.4 L821.5 424.1 L822.0 426.2 L822.5 428.6 L823.0 431.4 L823.5 434.7 L824.1 438.3 L824.6 442.4 L825.1 447.1 L825.6 452.3 L826.1 458.2 L826.6 464.8 L827.2 472.3 L827.7 480.8 L828.2 490.5 L828.7 501.7 L829.2 514.9 L829.7 530.7 L830.2 550.3 L830.8 575.8 L831.3 612.0 L831.8 674.1 L832.3 868.0 L832.8 702.8 L833.3 640.6 L833.8 604.4 L834.3 578.8 L834.8 559.2 L835.3 543.2 L835.8 529.9 L836.3 518.5 L836.8 508.7 L837.3 500.0 L837.8 492.3 L838.3 485.4 L838.8 479.3 L839.3 473.8 L839.8 468.8 L840.4 464.4 L840.9 460.4 L841.4 456.7 L841.9 453.5 L842.4 450.6 L842.9 448.1 L843.9 443.9 L844.9 440.8 L845.9 438.8 L846.9 437.8 L847.9 437.8 L848.9 438.9 L849.9 441.0 L850.9 444.3 L851.5 446.4 L852.0 448.8 L852.5 451.6 L853.0 454.7 L853.5 458.2 L854.0 462.1 L854.5 466.5 L855.0 471.3 L855.5 476.8 L856.0 482.8 L856.5 489.6 L857.0 497.2 L857.5 505.8 L858.0 515.7 L858.6 527.0 L859.1 540.3 L859.6 556.2 L860.1 575.8 L860.6 601.4 L861.1 637.6 L861.6 699.7 L862.1 868.0 L862.6 715.0 L863.1 652.9 L863.6 616.6 L864.2 591.0 L864.7 571.3 L865.2 555.4 L865.7 542.0 L866.2 530.6 L866.7 520.7 L867.2 512.0 L867.7 504.2 L868.3 497.3 L868.8 491.1 L869.3 485.5 L869.8 480.5 L870.3 475.9 L870.8 471.8 L871.3 468.1 L871.8 464.7 L872.4 461.7 L872.9 459.1 L873.9 454.6 L874.9 451.2 L875.9 448.9 L877.0 447.5 L878.0 447.0 L878.5 447.2 L879.0 447.6 L879.5 448.4 L880.1 449.5 L880.6 450.9 L881.1 452.6 L881.6 454.7 L882.1 457.1 L882.6 459.9 L883.1 463.2 L883.7 466.8 L884.2 470.9 L884.7 475.6 L885.2 480.8 L885.7 486.7 L886.2 493.3 L886.8 500.8 L887.3 509.3 L887.8 519.0 L888.3 530.2 L888.8 543.4 L889.3 559.2 L889.8 578.8 L890.4 604.3 L890.9 640.5 L891.4 702.6 L891.9 868.0 L892.4 727.0 L892.9 664.9 L893.4 628.6 L894.0 603.0 L894.5 583.3 L895.0 567.4 L895.5 554.0 L896.0 542.6 L896.5 532.7 L897.0 524.0 L897.5 516.2 L898.1 509.3 L898.6 503.1 L899.1 497.5 L899.6 492.5 L900.1 487.9 L900.6 483.8 L901.1 480.1 L901.6 476.7 L902.2 473.7 L902.7 471.1 L903.7 466.6 L904.7 463.2 L905.7 460.9 L906.8 459.5 L907.8 459.0 L908.3 459.2 L908.8 459.6 L909.3 460.4 L909.9 461.5 L910.4 462.9 L910.9 464.6 L911.4 466.7 L911.9 469.1 L912.4 471.9 L912.9 475.2 L913.5 478.8 L914.0 482.9 L914.5 487.6 L915.0 492.8 L915.5 498.7 L916.0 505.3 L916.6 512.8 L917.1 521.3 L917.6 531.0 L918.1 542.2 L918.6 555.4 L919.1 571.2 L919.6 590.8 L920.2 616.3 L920.7 652.5 L921.2 714.6 L921.7 868.0 L922.2 735.8 L922.7 673.6 L923.2 637.4 L923.7 611.8 L924.2 592.2 L924.8 576.2 L925.3 562.9 L925.8 551.5 L926.3 541.7 L926.8 533.0 L927.3 525.3 L927.8 518.4 L928.3 512.3 L928.8 506.8 L929.4 501.8 L929.9 497.4 L930.4 493.4 L930.9 489.7 L931.4 486.5 L931.9 483.6 L932.4 481.1 L932.9 478.8 L933.9 475.2 L935.0 472.7 L936.0 471.2 L937.0 470.7 L938.0 471.2 L939.0 472.8 L940.0 475.5 L940.5 477.3 L941.0 479.4 L941.5 481.8 L942.0 484.6 L942.5 487.7 L943.0 491.2 L943.5 495.1 L944.0 499.5 L944.5 504.3 L945.0 509.8 L945.5 515.8 L946.0 522.6 L946.5 530.2 L947.0 538.8 L947.5 548.7 L948.0 560.0 L948.5 573.3 L949.0 589.2 L949.5 608.8 L950.0 634.4 L950.5 670.6 L951.0 732.7 L951.5 868.0 L952.0 739.8 L952.5 677.7 L953.0 641.5 L953.5 615.9 L954.1 596.3 L954.6 580.4 L955.1 567.1 L955.6 555.8 L956.1 545.9 L956.6 537.3 L957.1 529.7 L957.6 522.9 L958.1 516.9 L958.6 511.4 L959.2 506.6 L959.7 502.2 L960.2 498.3 L960.7 494.8 L961.2 491.7 L961.7 488.9 L962.2 486.5 L962.7 484.4 L963.7 481.1 L964.8 479.0 L965.8 477.9 L966.8 477.9 L967.8 478.9 L968.8 480.9 L969.8 484.0 L970.8 488.2 L971.3 490.7 L971.8 493.6 L972.3 496.8 L972.8 500.5 L973.3 504.5 L973.8 508.9 L974.3 513.9 L974.8 519.4 L975.3 525.5 L975.8 532.4 L976.3 540.1 L976.8 548.8 L977.3 558.6 L977.8 570.0 L978.3 583.3 L978.8 599.2 L979.3 618.9 L979.8 644.5 L980.3 680.7 L980.8 742.9 L981.3 868.0 L981.8 746.9 L982.3 684.8 L982.8 648.6 L983.3 623.0 L983.8 603.4 L984.3 587.5 L984.8 574.2 L985.4 562.9 L985.9 553.0 L986.4 544.4 L986.9 536.8 L987.4 530.0 L987.9 524.0 L988.4 518.5 L988.9 513.7 L989.4 509.3 L989.9 505.4 L990.4 501.9 L990.9 498.8 L991.4 496.0 L991.9 493.6 L992.5 491.5 L993.5 488.2 L994.5 486.1 L995.5 485.0 L996.5 485.0 L997.5 486.0 L998.5 488.0 L999.5 491.1 L1000.5 495.3 L1001.0 497.8 L1001.5 500.7 L1002.0 503.9 L1002.5 507.6 L1003.0 511.6 L1003.5 516.0 L1004.1 521.0 L1004.6 526.5 L1005.1 532.6 L1005.6 539.5 L1006.1 547.2 L1006.6 555.9 L1007.1 565.7 L1007.6 577.1 L1008.1 590.4 L1008.6 606.3 L1009.1 626.0 L1009.6 651.6 L1010.1 687.8 L1010.6 750.0 L1011.1 868.0 L1011.6 757.1 L1012.1 694.9 L1012.6 658.7 L1013.2 633.1 L1013.7 613.4 L1014.2 597.5 L1014.7 584.2 L1015.2 572.8 L1015.8 563.0 L1016.3 554.3 L1016.8 546.6 L1017.3 539.7 L1017.8 533.6 L1018.3 528.1 L1018.8 523.1 L1019.4 518.7 L1019.9 514.7 L1020.4 511.0 L1020.9 507.8 L1021.4 504.9 L1021.9 502.4 L1022.5 500.1 L1023.5 496.5 L1024.5 494.0 L1025.6 492.5 L1026.6 492.0 L1027.6 492.6 L1028.6 494.3 L1029.2 495.6 L1029.7 497.2 L1030.2 499.1 L1030.7 501.4 L1031.2 504.0 L1031.7 507.0 L1032.2 510.3 L1032.7 514.1 L1033.2 518.4 L1033.8 523.1 L1034.3 528.5 L1034.8 534.4 L1035.3 541.2 L1035.8 548.7 L1036.3 557.3 L1036.8 567.0 L1037.3 578.3 L1037.8 591.5 L1038.3 607.4 L1038.9 627.0 L1039.4 652.5 L1039.9 688.7 L1040.4 750.9 L1040.9 868.0 L1041.4 772.3 L1041.9 710.1 L1042.4 673.8 L1043.0 648.2 L1043.5 628.5 L1044.0 612.5 L1044.5 599.2 L1045.0 587.7 L1045.5 577.7 L1046.0 569.0 L1046.5 561.2 L1047.0 554.2 L1047.6 547.9 L1048.1 542.3 L1048.6 537.2 L1049.1 532.5 L1049.6 528.3 L1050.1 524.5 L1050.6 521.1 L1051.2 518.0 L1051.7 515.2 L1052.7 510.5 L1053.7 506.8 L1054.7 504.1 L1055.8 502.4 L1056.8 501.5 L1057.8 501.6 L1058.3 502.1 L1058.8 502.9 L1059.4 504.0 L1059.9 505.6 L1060.4 507.4 L1060.9 509.7 L1061.4 512.3 L1061.9 515.4 L1062.5 518.9 L1063.0 522.9 L1063.5 527.4 L1064.0 532.5 L1064.5 538.3 L1065.0 544.8 L1065.5 552.2 L1066.1 560.6 L1066.6 570.3 L1067.1 581.4 L1067.6 594.6 L1068.1 610.3 L1068.6 629.9 L1069.2 655.4 L1069.7 691.5 L1070.2 753.6 L1070.7 868.0 L1071.2 774.6 L1071.7 712.4 L1072.2 676.1 L1072.7 650.5 L1073.2 630.8 L1073.8 614.8 L1074.3 601.5 L1074.8 590.0 L1075.3 580.0 L1075.8 571.3 L1076.3 563.5 L1076.8 556.5 L1077.3 550.2 L1077.8 544.6 L1078.3 539.5 L1078.8 534.8 L1079.4 530.6 L1079.9 526.8 L1080.4 523.4 L1080.9 520.3 L1081.4 517.5 L1082.4 512.8 L1083.4 509.1 L1084.5 506.4 L1085.5 504.7 L1086.5 503.8 L1087.5 503.9 L1088.0 504.3 L1088.5 505.1 L1089.0 506.2 L1089.5 507.6 L1090.0 509.3 L1090.5 511.4 L1091.0 513.8 L1091.5 516.6 L1092.0 519.9 L1092.5 523.5 L1093.0 527.6 L1093.5 532.3 L1094.0 537.5 L1094.5 543.4 L1095.0 550.0 L1095.5 557.5 L1096.0 566.0 L1096.5 575.7 L1097.0 586.9 L1097.5 600.1 L1098.0 615.9 L1098.5 635.5 L1099.0 661.0 L1099.5 697.2 L1100.0 759.3 L1100.5 868.0 L1101.0 776.4 L1101.5 714.3 L1102.0 678.0 L1102.5 652.4 L1103.0 632.7 L1103.5 616.8 L1104.0 603.4 L1104.6 592.0 L1105.1 582.1 L1105.6 573.4 L1106.1 565.6 L1106.6 558.7 L1107.1 552.5 L1107.6 546.9 L1108.1 541.9 L1108.6 537.3 L1109.1 533.2 L1109.6 529.5 L1110.1 526.1 L1110.6 523.1 L1111.1 520.5 L1112.1 516.0 L1113.2 512.6 L1114.2 510.3 L1115.2 508.9 L1116.2 508.4 L1117.2 509.0 L1118.2 510.7 L1118.7 512.0 L1119.2 513.6 L1119.7 515.5 L1120.2 517.8 L1120.7 520.4 L1121.2 523.4 L1121.7 526.7 L1122.2 530.5 L1122.7 534.8 L1123.2 539.5 L1123.8 544.9 L1124.3 550.8 L1124.8 557.6 L1125.3 565.1 L1125.8 573.7 L1126.3 583.4 L1126.8 594.7 L1127.3 607.9 L1127.8 623.8 L1128.3 643.4 L1128.8 668.9 L1129.3 705.1 L1129.8 767.3 L1130.3 868.0 L1130.8 782.0 L1131.3 719.9 L1131.8 683.6 L1132.3 658.0 L1132.8 638.2 L1133.3 622.2 L1133.8 608.8 L1134.3 597.3 L1134.8 587.3 L1135.3 578.5 L1135.8 570.7 L1136.3 563.7 L1136.8 557.3 L1137.3 551.6 L1137.8 546.4 L1138.3 541.7 L1138.8 537.5 L1139.3 533.6 L1139.8 530.0 L1140.3 526.8 L1141.3 521.3 L1142.3 516.9 L1143.3 513.5 L1144.3 511.0 L1145.3 509.3 L1146.3 508.5 L1147.3 508.6 L1147.8 509.1 L1148.3 509.9 L1148.8 511.0 L1149.4 512.6 L1149.9 514.4 L1150.4 516.7 L1150.9 519.3 L1151.4 522.4 L1151.9 525.9 L1152.4 529.9 L1152.9 534.4 L1153.4 539.5 L1154.0 545.3 L1154.5 551.8 L1155.0 559.2 L1155.5 567.6 L1156.0 577.3 L1156.5 588.4 L1157.0 601.6 L1157.5 617.3 L1158.1 636.9 L1158.6 662.4 L1159.1 698.5 L1159.6 760.6 L1160.1 868.0 L1160.6 770.4 L1161.1 708.3 L1161.6 672.1 L1162.2 646.5 L1162.7 626.9 L1163.2 611.0 L1163.7 597.7 L1164.2 586.4 L1164.7 576.5 L1165.2 567.9 L1165.8 560.3 L1166.3 553.5 L1166.8 547.5 L1167.3 542.0 L1167.8 537.2 L1168.3 532.8 L1168.8 528.9 L1169.3 525.4 L1169.9 522.3 L1170.4 519.5 L1170.9 517.1 L1171.4 515.0 L1171.9 513.2 L1172.9 510.5 L1174.0 508.9 L1175.0 508.4 L1176.0 508.9 L1177.1 510.5 L1178.1 513.2 L1178.6 515.0 L1179.1 517.1 L1179.6 519.5 L1180.1 522.3 L1180.7 525.4 L1181.2 528.9 L1181.7 532.8 L1182.2 537.2 L1182.7 542.0 L1183.2 547.5 L1183.7 553.5 L1184.2 560.3 L1184.8 567.9 L1185.3 576.5 L1185.8 586.4 L1186.3 597.7 L1186.8 611.0 L1187.3 626.9 L1187.8 646.5 L1188.4 672.1 L1188.9 708.3 L1189.4 770.4 L1189.9 868.0 L1190.4 774.0 L1190.9 711.9 L1191.4 675.7 L1191.9 650.1 L1192.4 630.5 L1192.9 614.6 L1193.4 601.3 L1194.0 590.0 L1194.5 580.1 L1195.0 571.5 L1195.5 563.9 L1196.0 557.1 L1196.5 551.1 L1197.0 545.6 L1197.5 540.8 L1198.0 536.4 L1198.5 532.5 L1199.0 529.0 L1199.5 525.9 L1200.0 523.1 L1200.5 520.7 L1201.1 518.6 L1202.1 515.3 L1203.1 513.2 L1204.1 512.1 L1204.6 512.0" stroke="#000" stroke-width="2.9" fill="none" stroke-dasharray="15.5 6 3 6" stroke-linejoin="round"/>
<path d="M133.0 480.0 L133.5 470.6 L134.0 462.0 L134.5 454.3 L135.0 447.1 L135.5 440.5 L136.0 434.4 L136.5 428.7 L137.0 423.3 L138.0 413.6 L139.0 404.9 L140.0 397.1 L141.0 390.0 L142.0 383.6 L143.0 377.8 L144.0 372.4 L145.0 367.6 L146.5 361.0 L148.0 355.2 L149.5 350.2 L151.0 345.8 L152.5 342.0 L154.0 338.7 L155.5 335.9 L157.0 333.7 L158.5 331.9 L160.5 330.2 L162.5 329.2 L164.0 329.0 L165.5 329.4 L167.0 330.4 L168.5 332.0 L170.5 335.0 L172.5 338.6 L175.5 344.9 L176.5 347.3 L177.5 350.6 L178.5 354.9 L179.5 360.0 L180.5 365.7 L184.0 387.4 L185.0 393.4 L186.0 399.0 L187.0 403.9 L188.0 408.0 L190.0 414.9 L192.0 421.0 L194.5 427.9 L201.5 445.4 L204.0 452.0 L205.0 455.2 L207.1 462.6 L208.1 465.9 L208.6 467.1 L209.2 468.1 L209.7 468.8 L210.2 469.0 L210.7 468.6 L211.3 467.5 L211.8 465.7 L212.3 463.4 L212.8 460.6 L213.9 454.3 L215.5 444.1 L216.5 438.0 L217.5 431.6 L219.0 421.0 L221.0 406.3 L222.0 398.2 L224.5 376.7 L225.5 368.4 L226.5 361.0 L227.0 357.7 L227.5 354.6 L230.1 341.9 L232.1 332.2 L233.6 325.5 L234.7 321.5 L235.7 318.0 L236.7 315.0 L237.7 312.6 L238.8 311.0 L239.8 310.1 L241.3 310.1 L243.3 310.7 L245.3 311.9 L247.3 313.8 L249.4 316.4 L251.4 319.7 L253.4 323.7 L254.9 327.3 L256.4 331.3 L257.9 335.9 L259.4 341.1 L260.9 347.0 L262.4 353.6 L263.4 358.5 L264.4 363.9 L265.4 369.7 L266.4 376.0 L267.5 383.0 L268.5 390.7 L269.5 399.3 L270.5 408.9 L271.0 414.2 L271.5 419.8 L272.0 425.8 L272.5 432.3 L273.0 439.3 L273.5 447.0 L274.0 455.3 L274.5 464.6 L275.0 474.9 L275.5 486.6 L276.0 500.0 L276.5 482.9 L277.0 468.6 L277.5 456.3 L278.0 445.5 L278.5 435.9 L279.0 427.3 L279.5 419.5 L280.0 412.4 L280.5 405.9 L281.0 399.9 L281.5 394.3 L282.0 389.2 L282.5 384.4 L283.5 375.7 L284.5 368.1 L285.5 361.4 L286.5 355.5 L287.5 350.4 L288.5 345.8 L289.5 341.9 L290.5 338.4 L291.5 335.5 L292.5 333.0 L293.5 331.0 L294.5 329.4 L295.5 328.2 L297.0 327.2 L299.0 327.0 L301.5 327.5 L304.0 328.5 L306.5 330.0 L309.0 332.1 L311.5 334.6 L314.0 337.8 L316.5 341.5 L319.0 345.8 L321.5 350.6 L324.0 356.1 L326.5 362.2 L329.0 369.0 L331.5 376.4 L332.0 378.0 L334.5 373.6 L336.0 371.4 L337.5 369.7 L339.0 368.6 L340.5 368.0 L341.5 368.1 L342.5 368.7 L343.5 370.1 L344.5 372.1 L345.5 374.8 L346.5 378.2 L347.5 382.3 L348.5 387.3 L349.5 393.2 L350.5 400.0 L351.5 407.8 L352.0 412.2 L352.5 416.9 L353.0 421.9 L353.5 427.3 L354.0 433.1 L354.5 439.3 L355.0 446.0 L356.0 437.4 L357.0 429.5 L358.0 422.3 L359.0 415.7 L360.0 409.5 L361.5 401.1 L363.0 393.4 L364.5 386.4 L366.0 380.0 L367.5 374.2 L369.5 367.1 L371.5 360.7 L373.5 355.0 L375.5 349.8 L378.0 344.1 L380.5 339.0 L383.0 334.7 L385.5 330.9 L388.0 327.6 L390.5 324.9 L393.5 322.3 L396.5 320.4 L399.5 319.1 L402.5 318.5 L404.5 318.4 L406.0 319.1 L407.6 320.5 L409.1 322.7 L410.6 325.7 L411.6 328.2 L412.7 331.2 L413.7 334.5 L414.7 338.3 L415.7 342.6 L416.7 347.5 L417.7 352.9 L418.8 359.0 L419.8 365.8 L420.8 373.4 L421.8 382.0 L422.3 386.8 L422.8 391.8 L423.3 397.2 L423.9 403.0 L424.4 409.2 L424.9 416.0 L425.4 423.3 L425.9 431.2 L426.4 440.0 L426.9 429.5 L427.4 420.1 L427.9 411.6 L428.4 403.9 L428.9 396.8 L429.4 390.2 L429.9 384.1 L430.4 378.4 L430.9 373.0 L431.9 363.2 L432.9 354.5 L433.9 346.6 L434.9 339.5 L435.9 332.9 L436.9 327.0 L437.9 321.5 L439.4 314.0 L440.9 307.3 L442.4 301.4 L443.9 296.0 L445.4 291.3 L447.0 287.0 L449.0 282.0 L451.0 277.8 L453.0 274.3 L455.0 271.4 L457.0 269.0 L459.0 267.3 L461.0 266.1 L463.0 265.4 L465.0 265.3 L467.0 265.9 L469.0 267.1 L471.0 269.1 L473.0 271.9 L474.5 274.5 L476.0 277.6 L477.5 281.2 L479.0 285.4 L480.5 290.2 L482.0 295.6 L483.5 301.8 L484.5 306.4 L485.5 311.5 L486.5 317.0 L487.5 323.0 L488.5 329.7 L489.5 337.0 L490.5 345.1 L491.5 354.2 L492.0 359.2 L492.5 364.5 L493.0 370.2 L493.5 376.3 L494.0 382.9 L494.5 390.0 L495.0 397.7 L495.5 406.2 L496.0 415.7 L496.5 426.2 L497.0 438.2 L497.5 452.0 L498.0 435.5 L498.5 421.6 L499.0 409.6 L499.5 399.0 L500.0 389.5 L500.5 380.9 L501.0 373.1 L501.5 366.0 L502.0 359.3 L502.5 353.2 L503.0 347.4 L503.5 342.1 L504.5 332.2 L505.5 323.4 L506.5 315.5 L507.5 308.3 L508.5 301.7 L509.5 295.6 L510.5 290.0 L512.0 282.3 L513.5 275.5 L515.0 269.3 L516.5 263.7 L518.0 258.6 L520.0 252.5 L522.0 247.1 L524.0 242.5 L526.0 238.3 L528.0 234.8 L530.5 231.0 L533.0 227.9 L535.5 225.6 L538.0 223.8 L540.5 222.7 L543.0 222.1 L545.0 222.2 L547.0 222.9 L549.0 224.3 L551.0 226.4 L553.0 229.3 L554.5 232.0 L556.0 235.2 L557.5 239.0 L559.0 243.3 L560.5 248.2 L562.0 253.8 L563.5 260.2 L564.5 265.0 L565.5 270.2 L566.5 275.9 L567.5 282.2 L568.5 289.2 L569.5 296.9 L570.5 305.5 L571.0 310.3 L571.5 315.3 L572.0 320.7 L572.5 326.4 L573.0 332.6 L573.5 339.4 L574.0 346.7 L574.5 354.6 L575.0 363.5 L575.5 373.3 L576.0 384.4 L576.5 397.0 L577.0 411.9 L577.5 429.7 L578.0 451.9 L578.5 481.7 L579.0 526.5 L579.5 620.0 L580.0 521.8 L580.5 473.0 L581.0 440.5 L581.5 416.0 L582.0 396.4 L582.5 380.0 L583.0 365.8 L583.5 353.4 L584.0 342.3 L584.5 332.3 L585.0 323.1 L585.5 314.7 L586.0 306.9 L586.5 299.6 L587.0 292.8 L587.5 286.4 L588.0 280.4 L589.0 269.2 L590.0 259.0 L591.0 249.8 L592.0 241.2 L593.0 233.3 L594.0 225.9 L595.0 218.9 L596.5 209.3 L598.0 200.5 L599.5 192.3 L601.0 184.8 L602.5 177.7 L604.5 169.1 L606.5 161.1 L608.5 153.8 L610.5 147.1 L613.0 139.4 L615.5 132.4 L618.0 126.1 L620.5 120.4 L623.0 115.2 L626.0 109.6 L629.0 104.7 L632.0 100.5 L635.0 96.8 L638.0 93.7 L641.0 91.2 L644.0 89.2 L647.5 87.5 L651.0 86.4 L654.5 86.1 L658.0 86.4 L661.5 87.4 L665.0 89.0 L668.5 91.4 L671.5 93.9 L674.5 96.9 L677.5 100.6 L680.5 104.7 L683.5 109.5 L686.5 114.9 L689.0 120.0 L691.5 125.5 L694.0 131.7 L696.5 138.4 L699.0 145.7 L701.0 152.2 L703.0 159.1 L705.0 166.6 L707.0 174.8 L709.0 183.6 L710.5 190.8 L712.0 198.5 L713.5 206.9 L715.0 215.9 L716.5 225.6 L717.5 232.7 L718.5 240.2 L719.5 248.2 L720.5 256.8 L721.5 266.2 L722.5 276.4 L723.5 287.6 L724.0 293.6 L724.5 300.0 L725.0 306.8 L725.5 314.0 L726.0 321.7 L726.5 329.9 L727.0 338.9 L727.5 348.6 L728.0 359.3 L728.5 371.0 L729.0 384.1 L729.5 398.9 L730.0 415.0 L730.5 404.4 L731.0 394.9 L731.5 386.3 L732.0 378.4 L732.5 371.2 L733.0 364.6 L733.5 358.4 L734.0 352.6 L734.5 347.3 L735.5 337.4 L736.5 328.6 L737.5 320.6 L738.5 313.4 L739.5 306.8 L740.5 300.8 L741.5 295.2 L743.0 287.7 L744.5 280.9 L746.0 274.9 L747.5 269.4 L749.0 264.5 L750.5 260.2 L752.5 255.0 L754.5 250.6 L756.5 246.9 L758.5 243.7 L760.5 241.2 L762.5 239.1 L764.5 237.6 L766.5 236.7 L768.5 236.2 L770.5 236.2 L772.5 236.8 L774.5 238.2 L776.5 240.2 L778.5 242.9 L780.5 246.4 L782.0 249.6 L783.5 253.3 L785.0 257.4 L786.5 262.2 L788.0 267.7 L789.5 273.8 L790.5 278.4 L791.5 283.4 L792.5 288.8 L793.5 294.8 L794.5 301.3 L795.5 308.6 L796.5 316.6 L797.5 325.6 L798.0 330.5 L798.5 335.7 L799.0 341.3 L799.5 347.3 L800.0 353.7 L800.5 360.7 L801.0 368.4 L801.5 376.7 L802.0 386.0 L802.5 396.4 L803.0 408.1 L803.5 421.7 L804.0 437.6 L804.5 457.1 L805.0 482.0 L805.5 459.8 L806.0 442.0 L806.5 427.2 L807.0 414.4 L807.5 403.3 L808.0 393.5 L808.5 384.6 L809.0 376.6 L809.6 369.2 L810.1 362.5 L810.6 356.2 L811.1 350.4 L811.6 344.9 L812.1 339.9 L813.1 330.6 L814.1 322.3 L815.1 314.8 L816.1 308.1 L817.1 302.0 L818.1 296.4 L819.2 291.3 L820.7 284.4 L822.2 278.4 L823.7 273.1 L825.2 268.4 L826.7 264.3 L828.3 260.7 L829.8 257.7 L831.8 254.3 L833.8 251.7 L835.8 249.8 L837.9 248.6 L839.9 248.1 L842.4 248.3 L844.9 249.1 L847.4 250.6 L849.9 252.7 L852.4 255.5 L854.4 258.3 L856.4 261.6 L858.4 265.4 L860.4 269.8 L862.4 274.8 L864.5 280.5 L866.0 285.3 L867.5 290.7 L869.0 296.6 L870.5 303.1 L872.0 310.3 L873.0 315.7 L874.0 321.4 L875.0 327.6 L876.0 334.4 L877.0 341.9 L878.0 350.1 L879.0 359.2 L879.5 364.1 L880.0 369.4 L880.5 375.0 L881.0 381.0 L881.5 387.5 L882.0 394.4 L882.5 402.0 L883.0 410.3 L883.5 419.5 L884.0 429.7 L884.5 441.2 L885.0 454.5 L885.5 470.0 L886.0 461.4 L886.5 453.6 L887.0 446.5 L887.5 439.8 L888.0 433.7 L888.5 427.9 L889.0 422.5 L890.0 412.7 L891.0 403.9 L892.0 396.0 L893.0 388.9 L894.0 382.4 L895.0 376.5 L896.0 371.0 L897.0 366.0 L898.5 359.2 L900.0 353.3 L901.5 348.0 L903.0 343.3 L904.5 339.2 L906.0 335.7 L907.5 332.6 L909.5 329.2 L911.5 326.6 L913.5 324.7 L915.5 323.5 L917.5 323.0 L920.0 323.2 L922.5 323.9 L925.0 325.2 L927.5 327.1 L930.0 329.6 L932.5 332.8 L935.0 336.6 L937.0 340.2 L939.0 344.3 L941.0 349.0 L943.0 354.3 L945.0 360.3 L946.5 365.3 L948.0 370.8 L949.5 376.8 L951.0 383.5 L952.5 390.9 L953.5 396.2 L954.5 402.1 L955.5 408.3 L956.5 415.2 L957.5 422.7 L958.5 430.9 L959.5 440.0 L960.0 445.0 L960.5 450.2 L961.0 455.8 L961.5 461.8 L962.0 468.2 L962.5 475.2 L963.0 482.7 L963.5 490.9 L964.0 499.9 L964.5 510.0 L965.0 495.0 L965.5 482.1 L966.0 470.9 L966.5 460.9 L967.0 452.0 L967.5 443.9 L968.0 436.5 L968.6 429.7 L969.1 423.4 L969.6 417.5 L970.1 412.1 L970.6 407.0 L971.6 397.7 L972.6 389.5 L973.6 382.1 L974.6 375.4 L975.6 369.4 L976.7 364.0 L977.7 359.1 L978.7 354.6 L980.2 348.6 L981.7 343.5 L983.3 339.1 L984.8 335.4 L986.3 332.3 L987.8 329.8 L989.3 327.8 L990.9 326.4 L992.4 325.4 L993.9 325.0 L995.9 325.1 L997.9 325.8 L999.9 327.0 L1001.9 328.7 L1003.9 330.9 L1005.9 333.8 L1007.9 337.2 L1009.9 341.4 L1011.9 346.2 L1013.4 350.4 L1015.0 355.0 L1016.5 360.2 L1018.0 366.0 L1019.5 372.4 L1021.0 379.7 L1022.0 385.0 L1023.0 390.8 L1024.0 397.1 L1025.0 403.9 L1026.0 411.5 L1027.0 419.8 L1028.0 429.1 L1028.5 434.2 L1029.0 439.6 L1029.5 445.4 L1030.0 451.5 L1030.5 458.2 L1031.0 465.4 L1031.5 473.2 L1032.0 481.8 L1032.5 491.3 L1033.0 502.0 L1033.5 489.7 L1034.0 478.9 L1034.5 469.2 L1035.0 460.5 L1035.5 452.6 L1036.0 445.4 L1036.5 438.7 L1037.0 432.5 L1037.5 426.7 L1038.0 421.3 L1038.5 416.3 L1039.5 407.0 L1040.5 398.7 L1041.5 391.3 L1042.5 384.5 L1043.5 378.4 L1044.5 372.8 L1045.5 367.7 L1047.0 360.8 L1048.5 354.7 L1050.1 349.4 L1051.6 344.7 L1053.1 340.6 L1054.6 337.1 L1056.1 334.0 L1057.6 331.5 L1059.6 328.7 L1061.6 326.8 L1063.6 325.5 L1065.6 325.0 L1067.6 325.1 L1069.6 325.8 L1071.6 326.9 L1073.6 328.5 L1075.6 330.6 L1077.6 333.3 L1079.6 336.6 L1081.6 340.5 L1083.6 345.0 L1085.7 350.2 L1087.2 354.7 L1088.7 359.6 L1090.2 365.1 L1091.7 371.2 L1093.2 377.9 L1094.7 385.4 L1095.7 390.9 L1096.7 396.9 L1097.7 403.3 L1098.7 410.3 L1099.7 418.0 L1100.7 426.4 L1101.7 435.8 L1102.2 440.9 L1102.7 446.3 L1103.2 452.0 L1103.7 445.6 L1104.2 439.7 L1104.7 434.1 L1105.2 428.9 L1106.2 419.3 L1107.2 410.9 L1108.2 403.3 L1109.2 396.5 L1110.2 390.4 L1111.2 384.9 L1112.2 380.0 L1113.2 375.6 L1114.3 371.7 L1115.3 368.2 L1116.3 365.2 L1117.8 361.4 L1119.3 358.4 L1120.8 356.3 L1122.3 354.9 L1123.8 354.2 L1124.8 354.3 L1125.8 354.8 L1126.8 355.7 L1128.3 357.9 L1129.8 360.9 L1131.3 364.5 L1133.3 370.1 L1138.3 385.4 L1140.3 391.2 L1141.8 395.1 L1151.4 417.3 L1156.4 428.7 L1158.9 434.1 L1160.9 439.1 L1163.4 445.6 L1164.9 449.1 L1165.9 450.9 L1166.9 452.2 L1167.9 452.9 L1168.9 452.9 L1169.9 451.7 L1170.9 449.7 L1171.9 446.9 L1173.4 441.9 L1175.9 432.7 L1177.4 427.4 L1178.9 421.2 L1180.4 414.3 L1182.4 404.4 L1186.0 386.5 L1187.5 379.2 L1189.0 372.4 L1190.5 366.3 L1193.0 356.5 L1198.0 335.8 L1200.5 325.9 L1202.5 318.6 L1204.0 313.7 L1205.5 309.4 L1207.0 305.8 L1208.5 302.9 L1209.5 301.5 L1210.5 300.6 L1211.5 300.1 L1212.0 300.0" stroke="#1a14b8" stroke-width="2.7" fill="none" stroke-dasharray="18 12.5" stroke-linejoin="round"/>
<path d="M137.3 868.0 L137.8 737.1 L138.3 674.8 L138.8 638.5 L139.3 612.7 L139.8 592.8 L140.3 576.6 L140.8 562.9 L141.3 551.1 L141.9 540.7 L142.4 531.5 L142.9 523.3 L143.4 515.8 L143.9 508.9 L144.4 502.6 L144.9 496.8 L145.4 491.5 L145.9 486.5 L146.4 481.8 L147.4 473.4 L148.4 466.0 L149.4 459.5 L150.4 453.7 L151.5 448.6 L152.5 444.1 L153.5 440.1 L154.5 436.6 L155.5 433.5 L156.5 430.9 L158.0 427.7 L159.6 425.2 L161.1 423.6 L162.6 422.8 L164.1 422.6 L165.6 423.3 L167.2 424.8 L168.7 427.1 L169.7 429.1 L170.7 431.6 L171.7 434.4 L172.8 437.7 L173.8 441.5 L174.8 445.8 L175.8 450.7 L176.8 456.2 L177.8 462.5 L178.9 469.5 L179.9 477.5 L180.4 481.9 L180.9 486.6 L181.4 491.6 L181.9 497.0 L182.4 502.8 L182.9 509.1 L183.4 515.9 L183.9 523.4 L184.5 531.6 L185.0 540.7 L185.5 550.8 L186.0 562.3 L186.5 575.5 L187.0 591.0 L187.5 580.1 L188.0 570.5 L188.5 561.8 L189.0 554.1 L189.5 547.1 L190.0 540.8 L190.5 535.2 L191.0 530.1 L191.5 525.4 L192.0 521.3 L192.5 517.6 L193.0 514.3 L193.5 511.5 L194.0 509.0 L194.5 506.8 L195.0 505.0 L195.5 503.6 L196.0 502.4 L196.5 501.6 L197.0 501.2 L197.5 501.0 L198.0 501.2 L198.5 501.9 L199.1 503.0 L199.6 504.6 L200.1 506.6 L200.6 509.2 L201.1 512.3 L201.7 515.9 L202.2 520.2 L202.7 525.1 L203.2 530.7 L203.7 537.2 L204.2 544.6 L204.8 553.2 L205.3 563.0 L205.8 574.5 L206.3 588.2 L206.8 604.7 L207.4 625.3 L207.9 652.5 L208.4 692.0 L208.9 643.5 L209.4 612.2 L209.9 589.2 L210.4 570.9 L210.9 555.8 L211.4 543.0 L211.9 532.0 L212.4 522.2 L212.9 513.6 L213.4 505.8 L213.9 498.8 L214.4 492.4 L214.9 486.6 L215.4 481.2 L215.9 476.3 L216.4 471.8 L216.9 467.7 L217.4 463.9 L218.5 457.1 L219.5 451.4 L220.5 446.6 L221.5 442.6 L222.5 439.3 L223.5 436.8 L224.5 434.9 L225.5 433.7 L226.5 433.1 L227.5 433.1 L228.5 433.7 L229.6 434.9 L230.6 436.8 L231.6 439.3 L232.7 442.5 L233.7 446.4 L234.7 451.1 L235.7 456.5 L236.8 462.8 L237.8 470.0 L238.8 478.2 L239.3 482.7 L239.9 487.5 L240.4 492.6 L240.9 498.1 L241.4 504.0 L242.4 498.2 L243.4 492.9 L244.4 488.1 L245.4 483.8 L246.4 480.0 L247.5 476.7 L248.5 473.9 L249.5 471.8 L250.5 470.1 L251.5 469.0 L252.5 468.5 L253.5 468.5 L254.5 469.0 L255.5 470.1 L256.5 471.8 L257.6 474.1 L258.6 476.9 L259.6 480.5 L260.6 484.6 L261.6 489.6 L262.6 495.3 L263.6 501.9 L264.6 509.5 L265.1 513.7 L265.7 518.2 L266.2 523.1 L266.7 528.3 L267.2 533.9 L267.7 540.0 L268.2 546.5 L268.7 553.7 L269.2 561.5 L269.7 570.0 L270.2 559.2 L270.7 549.7 L271.2 541.1 L271.7 533.4 L272.2 526.4 L272.8 520.1 L273.3 514.3 L273.8 509.1 L274.3 504.4 L274.8 500.1 L275.3 496.2 L275.8 492.7 L276.3 489.6 L276.8 486.8 L277.3 484.3 L277.8 482.2 L278.3 480.4 L279.4 477.6 L280.4 475.9 L281.4 475.4 L282.4 475.9 L283.5 477.2 L284.5 479.5 L285.5 482.8 L286.5 487.1 L287.6 492.4 L288.1 495.5 L288.6 498.9 L289.1 502.6 L289.6 506.7 L290.1 511.0 L290.6 515.8 L291.1 520.9 L291.7 526.5 L292.2 532.5 L292.7 539.0 L293.2 546.0 L293.7 540.4 L294.2 535.2 L294.7 530.3 L295.2 525.8 L295.7 521.6 L296.2 517.7 L296.7 514.1 L297.2 510.9 L298.2 505.3 L299.2 500.9 L300.2 497.7 L301.2 495.5 L302.2 494.4 L303.2 494.3 L304.7 494.9 L306.3 496.2 L307.8 498.2 L309.3 500.9 L310.9 504.3 L312.4 508.4 L313.9 513.3 L315.4 518.8 L317.0 525.0 L318.5 532.0 L319.0 534.4 L319.5 528.4 L320.0 522.8 L320.5 517.5 L321.5 508.0 L322.5 499.5 L323.5 491.9 L324.5 485.1 L325.5 479.1 L326.5 473.8 L327.5 469.1 L328.5 465.0 L329.5 461.4 L330.5 458.3 L331.5 455.6 L332.5 453.5 L333.5 451.8 L334.5 450.5 L335.5 449.7 L336.5 449.3 L337.5 449.3 L338.5 450.2 L339.5 451.7 L340.5 453.9 L342.0 458.0 L346.0 471.1 L347.5 475.6 L348.5 478.1 L349.5 480.2 L353.5 486.0 L356.0 489.2 L358.0 491.1 L359.5 492.0 L361.0 492.3 L362.5 485.8 L364.0 480.1 L365.0 476.7 L366.0 473.7 L367.1 471.2 L368.1 469.1 L369.1 467.4 L370.1 466.2 L371.1 465.5 L372.1 465.3 L373.6 465.6 L375.1 466.7 L376.6 468.4 L378.1 470.9 L379.7 474.1 L381.2 478.2 L382.2 481.5 L383.2 485.1 L384.2 489.2 L385.2 493.9 L386.2 499.1 L387.2 505.0 L388.2 511.6 L389.2 519.1 L390.2 527.6 L390.7 532.3 L391.2 537.3 L391.7 542.7 L392.2 548.5 L392.8 554.8 L393.3 561.7 L393.8 569.2 L394.3 577.5 L394.8 586.8 L395.3 597.1 L395.8 608.9 L396.3 622.6 L396.8 638.9 L397.3 658.8 L397.8 684.5 L398.3 720.9 L398.8 783.2 L399.3 868.0 L399.8 801.3 L400.3 739.1 L400.8 702.7 L401.3 677.0 L401.8 657.2 L402.3 641.0 L402.8 627.4 L403.3 615.8 L403.8 605.5 L404.3 596.5 L404.9 588.4 L405.4 581.0 L405.9 574.4 L406.4 568.3 L406.9 562.7 L407.4 557.6 L407.9 552.8 L408.4 548.4 L409.4 540.6 L410.4 533.9 L411.4 528.1 L412.4 523.2 L413.4 518.9 L414.4 515.4 L415.5 512.4 L416.5 510.1 L417.5 508.3 L418.5 507.0 L419.5 506.3 L420.5 506.0 L421.5 506.4 L422.5 507.5 L423.5 509.5 L424.6 512.2 L425.6 515.8 L426.6 520.3 L427.6 525.8 L428.6 532.4 L429.1 536.1 L429.6 540.2 L430.1 544.6 L430.6 549.4 L431.1 554.6 L431.7 560.2 L432.2 566.4 L432.7 573.1 L433.2 580.4 L433.7 588.5 L434.2 597.4 L434.7 607.4 L435.2 588.0 L435.7 572.0 L436.2 558.5 L436.7 546.9 L437.2 536.6 L437.7 527.5 L438.2 519.3 L438.7 511.8 L439.2 505.1 L439.7 498.9 L440.2 493.2 L440.7 487.9 L441.2 483.0 L441.7 478.6 L442.2 474.4 L443.2 466.9 L444.2 460.5 L445.3 454.9 L446.3 450.2 L447.3 446.1 L448.3 442.8 L449.3 440.0 L450.3 437.8 L451.3 436.2 L452.3 435.2 L453.3 434.7 L454.8 434.7 L456.8 435.4 L458.8 437.0 L460.3 438.6 L461.8 440.7 L463.4 443.3 L464.9 446.4 L466.4 450.0 L467.9 454.2 L469.4 459.1 L470.9 464.6 L472.4 471.0 L473.4 475.7 L474.4 480.9 L475.4 486.6 L476.4 492.8 L477.4 499.7 L478.5 507.3 L479.5 515.8 L480.5 525.4 L481.0 530.6 L481.5 536.3 L482.0 542.3 L482.5 548.8 L483.0 555.9 L483.5 563.5 L484.0 572.0 L484.5 581.3 L485.0 591.8 L485.5 603.6 L486.0 617.3 L486.5 633.4 L487.0 618.1 L487.5 605.1 L488.0 593.9 L488.6 584.0 L489.1 575.3 L489.6 567.5 L490.1 560.6 L490.6 554.4 L491.1 548.8 L491.6 543.7 L492.1 539.2 L492.7 535.2 L493.2 531.6 L493.7 528.4 L494.2 525.6 L494.7 523.2 L495.2 521.1 L495.7 519.4 L496.2 518.0 L496.8 516.9 L497.3 516.1 L497.8 515.7 L498.3 515.5 L498.8 515.7 L499.3 516.3 L499.8 517.4 L500.3 518.9 L500.8 520.8 L501.4 523.3 L501.9 526.2 L502.4 529.6 L502.9 533.7 L503.4 538.3 L503.9 543.7 L504.4 549.8 L504.9 556.9 L505.4 565.0 L505.9 574.3 L506.4 585.3 L506.9 598.2 L507.5 613.8 L508.0 633.2 L508.5 658.6 L509.0 694.7 L509.5 756.7 L510.0 868.0 L510.5 732.1 L511.0 669.9 L511.5 633.7 L512.0 608.1 L512.5 588.5 L513.0 572.5 L513.5 559.2 L514.0 547.8 L514.5 538.0 L515.0 529.3 L515.5 521.6 L516.0 514.7 L516.5 508.6 L517.0 503.1 L517.5 498.1 L518.0 493.7 L518.5 489.7 L519.0 486.0 L519.5 482.8 L520.0 479.9 L520.5 477.4 L521.5 473.2 L522.5 470.1 L523.5 468.1 L524.5 467.1 L525.5 467.2 L526.0 467.7 L526.5 468.5 L527.0 469.7 L527.5 471.2 L528.0 473.1 L528.5 475.4 L529.0 478.0 L529.5 481.1 L530.0 484.5 L530.5 488.5 L531.0 492.9 L531.5 497.8 L532.0 503.3 L532.5 509.4 L533.0 516.2 L533.5 523.8 L534.0 532.3 L534.5 541.8 L535.0 552.6 L535.5 565.0 L536.0 549.9 L536.5 536.9 L537.0 525.7 L537.5 515.8 L538.0 506.9 L538.5 498.9 L539.0 491.7 L539.5 485.0 L540.0 479.0 L540.5 473.4 L541.0 468.3 L541.5 463.6 L542.0 459.2 L542.5 455.2 L543.5 448.0 L544.5 441.9 L545.5 436.7 L546.5 432.4 L547.5 428.8 L548.5 425.9 L549.5 423.7 L550.5 422.1 L551.5 421.2 L552.5 420.9 L553.0 421.1 L553.5 421.6 L554.0 422.4 L554.5 423.6 L555.0 425.1 L555.5 427.0 L556.0 429.2 L556.5 431.8 L557.0 434.9 L557.5 438.4 L558.0 442.3 L558.6 446.7 L559.1 451.7 L559.6 457.3 L560.1 463.6 L560.6 470.6 L561.1 478.6 L561.6 487.5 L562.1 497.8 L562.6 509.5 L563.1 523.3 L563.6 539.8 L564.1 560.0 L564.6 542.3 L565.1 518.0 L565.6 494.7 L566.1 473.7 L566.6 455.1 L567.1 438.6 L567.6 424.0 L568.1 410.9 L568.6 399.2 L569.1 388.7 L569.6 379.2 L570.1 370.6 L570.6 362.8 L571.1 355.8 L571.6 349.5 L572.1 343.7 L572.6 338.5 L573.1 333.9 L573.6 329.7 L574.1 326.0 L574.6 322.8 L575.1 320.0 L575.6 317.6 L576.1 315.5 L576.6 313.9 L577.1 312.6 L577.6 311.7 L578.1 311.2 L578.6 311.0 L579.1 311.2 L579.6 311.6 L580.1 312.5 L580.6 313.6 L581.1 315.1 L581.7 316.9 L582.2 319.0 L582.7 321.6 L583.2 324.5 L583.7 327.7 L584.2 331.4 L584.7 335.5 L585.2 340.1 L585.7 345.1 L586.2 350.6 L586.8 356.7 L587.3 363.3 L587.8 370.6 L588.3 378.5 L588.8 387.3 L589.3 396.8 L589.8 407.3 L590.3 418.7 L590.8 431.3 L591.4 445.1 L591.9 460.1 L592.4 476.3 L592.9 493.1 L593.4 509.2 L593.9 520.0 L594.4 456.4 L594.9 419.6 L595.4 393.6 L595.9 373.6 L596.5 357.4 L597.0 343.8 L597.5 332.1 L598.0 321.9 L598.5 312.9 L599.0 304.9 L599.5 297.6 L600.0 291.1 L600.5 285.2 L601.1 279.8 L601.6 274.8 L602.1 270.3 L602.6 266.1 L603.1 262.3 L603.6 258.9 L604.6 252.8 L605.7 247.7 L606.7 243.6 L607.7 240.3 L608.7 237.8 L609.8 236.0 L610.8 234.9 L611.8 234.6 L612.3 234.8 L612.8 235.4 L613.4 236.4 L613.9 237.8 L614.4 239.7 L614.9 242.0 L615.4 244.7 L615.9 248.0 L616.5 251.8 L617.0 256.1 L617.5 261.1 L618.0 266.9 L618.5 273.4 L619.0 280.8 L619.6 289.4 L620.1 299.3 L620.6 310.8 L621.1 324.4 L621.6 340.9 L622.1 361.6 L622.7 389.1 L623.2 429.2 L623.7 504.0 L624.2 453.1 L624.7 412.1 L625.2 380.5 L625.7 355.2 L626.2 334.0 L626.7 315.8 L627.2 299.8 L627.7 285.6 L628.2 272.8 L628.7 261.2 L629.2 250.5 L629.7 240.7 L630.2 231.6 L630.7 223.0 L631.2 215.1 L631.7 207.6 L632.2 200.5 L632.7 193.9 L633.2 187.6 L633.7 181.6 L634.7 170.6 L635.7 160.7 L636.7 151.6 L637.7 143.4 L638.7 135.9 L639.8 129.1 L640.8 123.0 L641.8 117.4 L642.8 112.3 L643.8 107.8 L644.8 103.7 L645.8 100.1 L646.8 96.9 L647.8 94.2 L648.8 91.9 L650.3 89.1 L651.8 87.3 L653.3 86.3 L654.8 86.2 L655.8 86.6 L656.8 87.4 L657.8 88.7 L658.8 90.4 L659.8 92.5 L660.8 95.1 L661.8 98.2 L662.8 101.7 L663.8 105.8 L664.8 110.4 L665.8 115.5 L666.8 121.2 L667.8 127.5 L668.8 134.6 L669.8 142.4 L670.8 151.0 L671.8 160.5 L672.8 171.1 L673.3 176.8 L673.8 182.8 L674.3 189.2 L674.8 196.0 L675.3 203.2 L675.8 210.9 L676.3 219.1 L676.8 227.9 L677.3 237.4 L677.8 247.6 L678.3 258.8 L678.8 271.1 L679.3 284.7 L679.8 299.9 L680.3 317.2 L680.8 337.3 L681.3 361.3 L681.8 391.2 L682.3 431.0 L682.8 490.8 L683.3 600.0 L683.8 460.2 L684.3 408.1 L684.8 375.6 L685.3 352.1 L685.8 333.8 L686.4 318.9 L686.9 306.5 L687.4 296.0 L687.9 286.9 L688.4 279.0 L688.9 272.2 L689.4 266.2 L689.9 261.0 L690.4 256.4 L690.9 252.5 L691.4 249.1 L691.9 246.2 L692.5 243.8 L693.0 241.9 L693.5 240.5 L694.0 239.4 L694.5 238.8 L695.5 238.7 L696.5 239.4 L697.5 240.7 L698.5 242.8 L699.5 245.6 L700.5 249.2 L701.5 253.7 L702.5 259.1 L703.5 265.6 L704.0 269.3 L704.6 273.3 L705.1 277.7 L705.6 282.5 L706.1 287.8 L706.6 293.5 L707.1 299.9 L707.6 306.8 L708.1 314.6 L708.6 323.3 L709.1 333.0 L709.6 344.2 L710.1 357.1 L710.6 372.5 L711.1 391.1 L711.6 414.9 L712.1 447.7 L712.6 499.9 L713.1 640.0 L713.6 525.6 L714.1 477.0 L714.6 445.8 L715.2 423.0 L715.7 405.1 L716.2 390.4 L716.7 378.1 L717.2 367.5 L717.7 358.4 L718.3 350.5 L718.8 343.5 L719.3 337.3 L719.8 331.8 L720.3 327.0 L720.8 322.7 L721.4 319.0 L721.9 315.8 L722.4 313.0 L722.9 310.6 L723.4 308.6 L723.9 307.0 L724.5 305.8 L725.0 304.9 L725.5 304.4 L726.5 304.3 L727.5 305.2 L728.5 307.1 L729.5 310.0 L730.5 313.9 L731.0 316.3 L731.5 319.0 L732.0 322.0 L732.5 325.4 L733.0 329.1 L733.5 333.2 L734.0 337.8 L734.5 342.8 L735.0 348.4 L735.5 354.5 L736.0 361.4 L736.5 369.1 L737.0 377.7 L737.5 387.5 L738.0 398.8 L738.5 411.8 L739.0 427.4 L739.5 446.4 L740.0 470.9 L740.5 504.7 L741.0 560.0 L741.5 523.4 L742.0 497.5 L742.5 477.5 L743.0 461.4 L743.5 447.8 L744.0 436.2 L744.5 426.1 L745.1 417.3 L745.6 409.4 L746.1 402.4 L746.6 396.1 L747.1 390.5 L747.6 385.4 L748.1 380.8 L748.6 376.7 L749.1 372.9 L749.6 369.6 L750.1 366.6 L750.6 364.0 L751.1 361.7 L752.2 358.0 L753.2 355.4 L754.2 353.8 L755.2 353.3 L756.2 353.6 L757.2 354.6 L758.2 356.3 L759.2 358.6 L760.2 361.7 L761.2 365.5 L762.2 370.2 L763.2 375.9 L764.2 382.6 L764.7 386.4 L765.2 390.5 L765.7 394.9 L766.2 399.8 L766.7 405.1 L767.2 410.9 L767.7 417.3 L768.2 424.3 L768.7 432.0 L769.2 440.7 L769.7 450.3 L770.2 461.4 L770.7 474.0 L771.2 488.9 L771.7 506.9 L772.2 529.6 L772.7 560.0 L773.2 539.6 L773.7 523.1 L774.2 509.3 L774.7 497.4 L775.2 487.1 L775.7 478.0 L776.2 470.0 L776.7 462.8 L777.2 456.3 L777.7 450.6 L778.2 445.4 L778.7 440.7 L779.3 436.5 L779.8 432.8 L780.3 429.4 L780.8 426.5 L781.3 423.9 L781.8 421.6 L782.3 419.7 L782.8 418.1 L783.3 416.8 L784.3 415.1 L785.3 414.5 L786.3 414.7 L787.3 415.5 L788.3 416.7 L789.3 418.5 L790.4 420.8 L791.4 423.7 L792.4 427.1 L793.4 431.1 L794.4 435.8 L795.4 441.2 L796.4 447.4 L797.4 454.4 L798.5 462.4 L799.0 466.8 L799.5 471.5 L800.0 476.5 L800.5 481.9 L801.0 487.7 L801.5 494.0 L802.0 500.7 L802.5 508.0 L804.0 503.3 L805.5 499.2 L807.0 495.9 L808.0 494.2 L809.0 493.0 L810.0 492.2 L811.0 492.0 L812.5 492.3 L814.0 493.0 L815.5 494.3 L817.0 496.2 L818.5 498.5 L820.0 501.3 L821.5 504.7 L823.0 508.5 L825.0 514.3 L827.0 520.9 L828.0 524.4 L829.0 516.0 L830.0 508.4 L831.0 501.7 L832.0 495.6 L833.0 490.3 L834.0 485.7 L835.0 481.7 L836.0 478.4 L837.0 475.7 L838.0 473.7 L839.0 472.2 L840.0 471.3 L841.0 471.0 L843.0 471.3 L849.0 473.9 L851.0 474.4 L853.0 474.4 L855.0 473.7 L860.5 470.5 L862.5 469.7 L864.5 469.5 L867.0 470.0 L869.5 471.1 L872.1 472.8 L874.6 475.2 L877.1 478.3 L879.6 482.2 L881.7 485.8 L883.7 489.9 L885.7 494.5 L887.7 499.7 L889.7 505.6 L891.7 512.0 L893.8 519.2 L895.3 525.1 L896.8 531.5 L898.3 538.4 L899.3 529.4 L900.3 521.4 L901.3 514.0 L902.3 507.4 L903.3 501.3 L904.3 495.8 L905.3 490.8 L906.3 486.4 L907.3 482.3 L908.3 478.7 L909.9 474.0 L911.4 470.1 L912.9 467.0 L914.4 464.8 L915.9 463.2 L917.4 462.4 L918.9 462.2 L920.4 462.7 L921.9 463.6 L923.4 465.2 L924.9 467.2 L926.4 469.9 L927.9 473.2 L929.4 477.1 L930.9 481.8 L932.5 487.2 L933.5 491.3 L934.5 495.9 L935.5 500.9 L936.5 506.4 L937.5 512.5 L938.5 519.3 L939.5 526.8 L940.5 535.2 L941.5 544.6 L942.0 549.8 L942.5 555.4 L943.0 561.4 L943.5 567.8 L944.0 574.8 L944.5 582.3 L945.0 590.6 L945.5 599.8 L946.0 610.0 L946.5 621.6 L947.0 605.0 L947.5 591.0 L948.0 579.0 L948.5 568.4 L949.0 559.0 L949.5 550.5 L950.0 542.9 L950.5 535.9 L951.0 529.5 L951.5 523.6 L952.0 518.2 L952.5 513.1 L953.0 508.5 L954.0 500.0 L955.0 492.7 L956.0 486.4 L957.0 480.8 L958.0 476.0 L959.0 471.9 L960.0 468.4 L961.0 465.4 L962.0 463.0 L963.0 461.1 L964.0 459.7 L965.0 458.7 L966.0 458.3 L967.0 458.3 L968.0 458.9 L969.0 460.2 L970.0 462.1 L971.0 464.7 L972.0 468.0 L973.0 472.1 L974.0 476.9 L975.0 482.6 L976.0 489.3 L977.0 497.0 L977.5 501.3 L978.0 505.9 L978.5 510.9 L979.0 516.2 L979.5 522.0 L980.0 528.3 L980.5 535.1 L981.0 542.4 L981.5 550.5 L982.0 540.2 L982.5 531.0 L983.0 522.6 L983.5 515.0 L984.0 508.1 L984.5 501.8 L985.0 495.9 L985.5 490.5 L986.0 485.5 L986.5 480.8 L987.0 476.5 L988.0 468.8 L989.0 462.1 L990.0 456.4 L991.0 451.5 L992.0 447.4 L993.0 444.0 L994.0 441.2 L995.0 439.2 L996.0 437.7 L997.0 436.8 L998.0 436.5 L998.5 436.7 L999.0 437.2 L999.5 438.0 L1000.0 439.2 L1000.5 440.8 L1001.0 442.7 L1001.5 445.0 L1002.0 447.7 L1002.5 450.8 L1003.0 454.4 L1003.5 458.4 L1004.0 463.0 L1004.5 468.2 L1005.0 474.0 L1005.5 480.6 L1006.0 488.0 L1006.5 496.4 L1007.0 506.0 L1007.5 517.1 L1008.0 530.0 L1008.5 545.4 L1009.0 564.2 L1009.5 588.4 L1010.0 621.6 L1010.5 581.3 L1011.0 553.7 L1011.5 532.7 L1012.0 515.7 L1012.5 501.6 L1013.0 489.5 L1013.5 479.0 L1014.0 469.7 L1014.5 461.5 L1015.0 454.0 L1015.5 447.3 L1016.0 441.2 L1016.5 435.7 L1017.0 430.6 L1017.5 426.0 L1018.0 421.8 L1018.5 417.9 L1019.0 414.3 L1020.0 408.1 L1021.0 402.9 L1022.0 398.7 L1023.0 395.3 L1024.0 392.7 L1025.0 390.9 L1026.0 389.9 L1027.0 389.5 L1028.0 389.9 L1029.0 391.0 L1030.0 392.8 L1031.0 395.4 L1032.0 398.9 L1033.0 403.3 L1034.0 408.6 L1035.0 415.0 L1035.5 418.7 L1036.0 422.8 L1036.5 427.2 L1037.0 432.0 L1037.5 437.2 L1038.0 443.0 L1038.5 449.4 L1039.0 456.5 L1039.5 464.3 L1040.0 473.1 L1040.5 483.0 L1041.0 494.3 L1041.5 507.4 L1042.0 523.0 L1042.5 542.1 L1043.0 566.5 L1043.5 600.2 L1044.0 655.0 L1044.5 602.1 L1045.0 569.0 L1045.5 545.1 L1046.0 526.3 L1046.5 510.9 L1047.0 498.0 L1047.5 486.9 L1048.1 477.1 L1048.6 468.6 L1049.1 460.9 L1049.6 454.1 L1050.1 448.0 L1050.6 442.4 L1051.1 437.4 L1051.6 432.9 L1052.1 428.8 L1052.6 425.1 L1053.1 421.8 L1053.6 418.8 L1054.1 416.1 L1055.1 411.6 L1056.2 408.2 L1057.2 405.9 L1058.2 404.5 L1059.2 404.0 L1060.2 404.3 L1061.2 405.4 L1062.3 407.1 L1063.3 409.5 L1064.3 412.7 L1065.3 416.7 L1066.3 421.6 L1067.3 427.5 L1067.8 430.8 L1068.4 434.5 L1068.9 438.5 L1069.4 442.8 L1069.9 447.5 L1070.4 452.7 L1070.9 458.3 L1071.4 464.5 L1071.9 471.3 L1072.4 478.9 L1072.9 487.3 L1073.4 496.7 L1073.9 507.4 L1074.5 519.8 L1075.0 534.2 L1075.5 551.6 L1076.0 573.3 L1076.5 602.2 L1077.0 645.0 L1077.5 605.0 L1078.0 577.6 L1078.5 556.6 L1079.0 539.8 L1079.5 525.8 L1080.1 513.8 L1080.6 503.4 L1081.1 494.3 L1081.6 486.2 L1082.1 478.9 L1082.6 472.4 L1083.1 466.5 L1083.6 461.2 L1084.1 456.4 L1084.7 452.0 L1085.2 448.1 L1085.7 444.5 L1086.2 441.2 L1086.7 438.3 L1087.7 433.4 L1088.7 429.6 L1089.8 426.8 L1090.8 425.0 L1091.8 424.1 L1092.8 424.1 L1093.8 425.2 L1094.8 427.0 L1096.3 430.8 L1098.3 436.4 L1099.3 438.9 L1100.3 441.0 L1101.3 442.2 L1103.3 443.4 L1107.4 445.0 L1109.5 446.1 L1110.5 447.1 L1111.0 448.2 L1111.5 449.6 L1112.0 451.3 L1112.5 453.4 L1113.5 458.6 L1114.5 464.7 L1115.5 471.8 L1116.5 479.6 L1118.0 492.1 L1120.5 513.9 L1122.0 526.5 L1123.0 534.3 L1124.0 541.4 L1125.0 547.6 L1126.0 552.7 L1126.5 554.9 L1127.0 556.6 L1127.5 558.1 L1128.0 559.1 L1128.5 559.8 L1129.0 560.0 L1129.5 551.0 L1130.0 542.9 L1130.5 535.5 L1131.1 528.7 L1131.6 522.5 L1132.1 516.7 L1132.6 511.4 L1133.1 506.5 L1133.6 501.9 L1134.1 497.7 L1135.2 490.1 L1136.2 483.6 L1137.2 478.1 L1138.2 473.4 L1139.3 469.6 L1140.3 466.5 L1141.3 464.2 L1142.3 462.5 L1143.4 461.5 L1144.4 461.2 L1145.9 461.6 L1147.4 462.9 L1148.9 465.1 L1149.9 467.0 L1150.9 469.3 L1151.9 472.1 L1152.9 475.3 L1154.0 479.0 L1155.0 483.1 L1156.0 487.7 L1157.0 492.9 L1158.0 498.7 L1159.0 505.1 L1160.0 512.2 L1161.0 520.1 L1162.0 528.8 L1162.5 533.5 L1163.5 527.0 L1164.5 521.0 L1165.5 515.5 L1166.5 510.5 L1167.5 506.0 L1168.5 502.0 L1169.5 498.6 L1170.5 495.5 L1171.5 493.0 L1172.5 491.0 L1173.5 489.4 L1174.5 488.2 L1175.5 487.5 L1176.5 487.3 L1178.0 487.7 L1179.5 488.8 L1181.0 490.6 L1182.6 493.1 L1184.1 496.3 L1186.1 501.2 L1187.6 505.4 L1189.7 499.7 L1191.2 495.8 L1192.8 492.4 L1194.3 489.6 L1195.9 487.5 L1197.4 486.0 L1199.0 485.2 L1200.0 485.0" stroke="#c8182e" stroke-width="2.9" fill="none" stroke-linejoin="round"/>
</g>
<g stroke="#262626" stroke-width="1.6" fill="none">
<line x1="146.0" y1="137.85" x2="156.5" y2="137.85" /><line x1="1195.0" y1="137.85" x2="1184.5" y2="137.85" /><line x1="146.0" y1="241.30" x2="156.5" y2="241.30" /><line x1="1195.0" y1="241.30" x2="1184.5" y2="241.30" /><line x1="146.0" y1="344.75" x2="156.5" y2="344.75" /><line x1="1195.0" y1="344.75" x2="1184.5" y2="344.75" /><line x1="146.0" y1="448.20" x2="156.5" y2="448.20" /><line x1="1195.0" y1="448.20" x2="1184.5" y2="448.20" /><line x1="146.0" y1="551.65" x2="156.5" y2="551.65" /><line x1="1195.0" y1="551.65" x2="1184.5" y2="551.65" /><line x1="146.0" y1="655.10" x2="156.5" y2="655.10" /><line x1="1195.0" y1="655.10" x2="1184.5" y2="655.10" /><line x1="146.0" y1="758.55" x2="156.5" y2="758.55" /><line x1="1195.0" y1="758.55" x2="1184.5" y2="758.55" /><line x1="262.70" y1="34.4" x2="262.70" y2="45.4" /><line x1="379.40" y1="34.4" x2="379.40" y2="45.4" /><line x1="496.10" y1="34.4" x2="496.10" y2="45.4" /><line x1="612.80" y1="34.4" x2="612.80" y2="45.4" /><line x1="729.50" y1="34.4" x2="729.50" y2="45.4" /><line x1="846.20" y1="34.4" x2="846.20" y2="45.4" /><line x1="962.90" y1="34.4" x2="962.90" y2="45.4" /><line x1="1079.60" y1="34.4" x2="1079.60" y2="45.4" />
</g>
<rect x="145.0" y="33.199999999999996" width="1051.0" height="2.8" fill="#858585"/>
<line x1="146.0" y1="34.4" x2="146.0" y2="862.8" stroke="#303030" stroke-width="2"/>
<line x1="1195.0" y1="34.4" x2="1195.0" y2="862.8" stroke="#202020" stroke-width="1.8"/>
<line x1="145.0" y1="862.0" x2="1196.0" y2="862.0" stroke="#202020" stroke-width="1.8"/>
<g font-family="'Liberation Serif', 'Times New Roman', serif" font-size="36" fill="#111" letter-spacing="1">
<text x="142.2" y="51.5" text-anchor="end" font-weight="bold">10</text><text x="140.5" y="155.6" text-anchor="end" font-weight="bold">0</text><text x="145.7" y="258.4" text-anchor="end" font-weight="bold">&#8722;10</text><text x="145.7" y="364.0" text-anchor="end" font-weight="bold">&#8722;20</text><text x="145.7" y="465.6" text-anchor="end" font-weight="bold">&#8722;30</text><text x="145.7" y="569.7" text-anchor="end" font-weight="bold">&#8722;40</text><text x="145.7" y="673.0" text-anchor="end" font-weight="bold">&#8722;50</text><text x="146.5" y="777.7" text-anchor="end" font-weight="bold">&#8722;60</text><text x="146.3" y="880.0" text-anchor="end" font-weight="normal">&#8722;70</text><text x="157.0" y="915.0" text-anchor="middle" font-weight="bold">475</text><text x="316.5" y="914.0" text-anchor="middle" font-weight="bold">490</text><text x="490.0" y="914.7" text-anchor="middle" font-weight="bold">505</text><text x="663.9" y="914.7" text-anchor="middle" font-weight="bold">520</text><text x="836.5" y="914.7" text-anchor="middle" font-weight="bold">535</text><text x="1009.0" y="916.0" text-anchor="middle" font-weight="bold">550</text><text x="1184.6" y="910.3" text-anchor="middle" font-weight="bold">565</text><text x="679.5" y="979" text-anchor="middle" font-weight="bold" letter-spacing="1">Azimuth (m)</text><text transform="translate(49.3 449) rotate(-90)" x="0" y="0" text-anchor="middle" font-weight="bold" letter-spacing="1">Amplitude (dB)</text>
</g>
</svg>
</body></html>
